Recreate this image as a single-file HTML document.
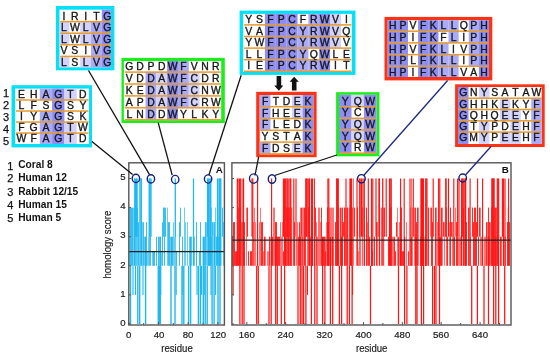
<!DOCTYPE html>
<html><head><meta charset="utf-8"><title>Homology</title>
<style>
html,body{margin:0;padding:0;background:#fff;width:550px;height:358px;overflow:hidden}
svg{display:block}
text{font-family:"Liberation Sans",Arial,sans-serif}
.seq text{font-size:10.4px;fill:#161616;stroke:#161616;stroke-width:0.35px;text-anchor:middle}
.tk{font-size:9.6px;fill:#1a1a1a;stroke:#1a1a1a;stroke-width:0.2px}
.ax{font-size:10px;fill:#1a1a1a;stroke:#1a1a1a;stroke-width:0.15px}
.pl{font-size:9.8px;font-weight:bold;fill:#111}
.lg{font-size:10.2px;font-weight:bold;fill:#111}
.ln{font-size:11px;fill:#111;stroke:#111;stroke-width:0.25px}
</style></head><body>
<svg width="550" height="358" viewBox="0 0 550 358">
<rect width="550" height="358" fill="#fff"/>
<g class="seq">
<rect x="56" y="6" width="58.40" height="64.30" fill="#06e0f6"/>
<rect x="59.5" y="9.7" width="51.30" height="57.60" fill="#fff"/>
<rect x="101.80" y="9.70" width="9.00" height="11.90" fill="#8e8ef2"/>
<rect x="59.50" y="21.60" width="9.92" height="11.60" fill="#d2d2fa"/>
<rect x="80.20" y="21.60" width="10.82" height="11.60" fill="#d2d2fa"/>
<rect x="91.00" y="21.60" width="10.82" height="11.60" fill="#aaaaf6"/>
<rect x="101.80" y="21.60" width="9.00" height="11.60" fill="#8e8ef2"/>
<rect x="59.50" y="33.20" width="9.92" height="11.60" fill="#d2d2fa"/>
<rect x="80.20" y="33.20" width="10.82" height="11.60" fill="#d2d2fa"/>
<rect x="91.00" y="33.20" width="10.82" height="11.60" fill="#aaaaf6"/>
<rect x="101.80" y="33.20" width="9.00" height="11.60" fill="#8e8ef2"/>
<rect x="91.00" y="44.80" width="10.82" height="11.60" fill="#aaaaf6"/>
<rect x="101.80" y="44.80" width="9.00" height="11.60" fill="#8e8ef2"/>
<rect x="59.50" y="56.40" width="9.92" height="10.90" fill="#d2d2fa"/>
<rect x="80.20" y="56.40" width="10.82" height="10.90" fill="#d2d2fa"/>
<rect x="91.00" y="56.40" width="10.82" height="10.90" fill="#aaaaf6"/>
<rect x="101.80" y="56.40" width="9.00" height="10.90" fill="#8e8ef2"/>
<rect x="60.30" y="20.85" width="50.10" height="1.5" fill="#e89a2c"/>
<rect x="60.30" y="32.45" width="50.10" height="1.5" fill="#e89a2c"/>
<rect x="60.30" y="44.05" width="50.10" height="1.5" fill="#e89a2c"/>
<rect x="60.30" y="55.65" width="50.10" height="1.5" fill="#e89a2c"/>
<text x="64.00" y="19.60">I</text>
<text x="74.80" y="19.60">R</text>
<text x="85.60" y="19.60">I</text>
<text x="96.40" y="19.60">T</text>
<text x="107.20" y="19.60">G</text>
<text x="64.00" y="31.20">L</text>
<text x="74.80" y="31.20">W</text>
<text x="85.60" y="31.20">L</text>
<text x="96.40" y="31.20">V</text>
<text x="107.20" y="31.20">G</text>
<text x="64.00" y="42.80">L</text>
<text x="74.80" y="42.80">W</text>
<text x="85.60" y="42.80">L</text>
<text x="96.40" y="42.80">V</text>
<text x="107.20" y="42.80">G</text>
<text x="64.00" y="54.40">V</text>
<text x="74.80" y="54.40">S</text>
<text x="85.60" y="54.40">I</text>
<text x="96.40" y="54.40">V</text>
<text x="107.20" y="54.40">G</text>
<text x="64.00" y="66.00">L</text>
<text x="74.80" y="66.00">S</text>
<text x="85.60" y="66.00">L</text>
<text x="96.40" y="66.00">V</text>
<text x="107.20" y="66.00">G</text>
<rect x="11.5" y="85.2" width="80.50" height="62.20" fill="#06e0f6"/>
<rect x="15.2" y="88.6" width="73.80" height="55.40" fill="#fff"/>
<rect x="39.80" y="88.60" width="12.32" height="11.40" fill="#aaaaf6"/>
<rect x="52.10" y="88.60" width="12.32" height="11.40" fill="#8e8ef2"/>
<rect x="64.40" y="88.60" width="12.32" height="11.40" fill="#d2d2fa"/>
<rect x="52.10" y="100.00" width="12.32" height="11.03" fill="#8e8ef2"/>
<rect x="39.80" y="111.03" width="12.32" height="11.03" fill="#aaaaf6"/>
<rect x="52.10" y="111.03" width="12.32" height="11.03" fill="#8e8ef2"/>
<rect x="39.80" y="122.06" width="12.32" height="11.03" fill="#aaaaf6"/>
<rect x="52.10" y="122.06" width="12.32" height="11.03" fill="#8e8ef2"/>
<rect x="64.40" y="122.06" width="12.32" height="11.03" fill="#d2d2fa"/>
<rect x="39.80" y="133.09" width="12.32" height="10.91" fill="#aaaaf6"/>
<rect x="52.10" y="133.09" width="12.32" height="10.91" fill="#8e8ef2"/>
<rect x="64.40" y="133.09" width="12.32" height="10.91" fill="#d2d2fa"/>
<rect x="16.00" y="99.25" width="72.60" height="1.5" fill="#e89a2c"/>
<rect x="16.00" y="110.28" width="72.60" height="1.5" fill="#e89a2c"/>
<rect x="16.00" y="121.31" width="72.60" height="1.5" fill="#e89a2c"/>
<rect x="16.00" y="132.34" width="72.60" height="1.5" fill="#e89a2c"/>
<text x="21.35" y="98.00">E</text>
<text x="33.65" y="98.00">H</text>
<text x="45.95" y="98.00">A</text>
<text x="58.25" y="98.00">G</text>
<text x="70.55" y="98.00">T</text>
<text x="82.85" y="98.00">D</text>
<text x="21.35" y="109.03">L</text>
<text x="33.65" y="109.03">F</text>
<text x="45.95" y="109.03">S</text>
<text x="58.25" y="109.03">G</text>
<text x="70.55" y="109.03">S</text>
<text x="82.85" y="109.03">Y</text>
<text x="21.35" y="120.06">I</text>
<text x="33.65" y="120.06">Y</text>
<text x="45.95" y="120.06">A</text>
<text x="58.25" y="120.06">G</text>
<text x="70.55" y="120.06">S</text>
<text x="82.85" y="120.06">K</text>
<text x="21.35" y="131.09">F</text>
<text x="33.65" y="131.09">G</text>
<text x="45.95" y="131.09">A</text>
<text x="58.25" y="131.09">G</text>
<text x="70.55" y="131.09">T</text>
<text x="82.85" y="131.09">W</text>
<text x="21.35" y="142.12">W</text>
<text x="33.65" y="142.12">F</text>
<text x="45.95" y="142.12">A</text>
<text x="58.25" y="142.12">G</text>
<text x="70.55" y="142.12">T</text>
<text x="82.85" y="142.12">D</text>
<rect x="121.5" y="57.9" width="103.30" height="65.10" fill="#18f018"/>
<rect x="123.9" y="61" width="97.30" height="59.20" fill="#fff"/>
<rect x="167.14" y="61.00" width="10.83" height="11.10" fill="#8e8ef2"/>
<rect x="177.96" y="61.00" width="10.83" height="11.10" fill="#aaaaf6"/>
<rect x="145.52" y="72.10" width="10.83" height="11.90" fill="#aaaaf6"/>
<rect x="156.33" y="72.10" width="10.83" height="11.90" fill="#d2d2fa"/>
<rect x="167.14" y="72.10" width="10.83" height="11.90" fill="#8e8ef2"/>
<rect x="177.96" y="72.10" width="10.83" height="11.90" fill="#aaaaf6"/>
<rect x="188.77" y="72.10" width="10.83" height="11.90" fill="#d2d2fa"/>
<rect x="145.52" y="84.00" width="10.83" height="11.90" fill="#aaaaf6"/>
<rect x="156.33" y="84.00" width="10.83" height="11.90" fill="#d2d2fa"/>
<rect x="167.14" y="84.00" width="10.83" height="11.90" fill="#8e8ef2"/>
<rect x="177.96" y="84.00" width="10.83" height="11.90" fill="#aaaaf6"/>
<rect x="188.77" y="84.00" width="10.83" height="11.90" fill="#d2d2fa"/>
<rect x="145.52" y="95.90" width="10.83" height="11.90" fill="#aaaaf6"/>
<rect x="156.33" y="95.90" width="10.83" height="11.90" fill="#d2d2fa"/>
<rect x="167.14" y="95.90" width="10.83" height="11.90" fill="#8e8ef2"/>
<rect x="177.96" y="95.90" width="10.83" height="11.90" fill="#aaaaf6"/>
<rect x="188.77" y="95.90" width="10.83" height="11.90" fill="#d2d2fa"/>
<rect x="145.52" y="107.80" width="10.83" height="12.40" fill="#aaaaf6"/>
<rect x="167.14" y="107.80" width="10.83" height="12.40" fill="#8e8ef2"/>
<rect x="124.70" y="71.35" width="96.10" height="1.5" fill="#e89a2c"/>
<rect x="124.70" y="83.25" width="96.10" height="1.5" fill="#e89a2c"/>
<rect x="124.70" y="95.15" width="96.10" height="1.5" fill="#e89a2c"/>
<rect x="124.70" y="107.05" width="96.10" height="1.5" fill="#e89a2c"/>
<rect x="124.70" y="118.95" width="96.10" height="1.5" fill="#e89a2c"/>
<text x="129.31" y="70.10">G</text>
<text x="140.12" y="70.10">D</text>
<text x="150.93" y="70.10">P</text>
<text x="161.74" y="70.10">D</text>
<text x="172.55" y="70.10">W</text>
<text x="183.36" y="70.10">F</text>
<text x="194.17" y="70.10">V</text>
<text x="204.98" y="70.10">N</text>
<text x="215.79" y="70.10">R</text>
<text x="129.31" y="82.00">V</text>
<text x="140.12" y="82.00">D</text>
<text x="150.93" y="82.00">D</text>
<text x="161.74" y="82.00">A</text>
<text x="172.55" y="82.00">W</text>
<text x="183.36" y="82.00">F</text>
<text x="194.17" y="82.00">C</text>
<text x="204.98" y="82.00">D</text>
<text x="215.79" y="82.00">R</text>
<text x="129.31" y="93.90">K</text>
<text x="140.12" y="93.90">E</text>
<text x="150.93" y="93.90">D</text>
<text x="161.74" y="93.90">A</text>
<text x="172.55" y="93.90">W</text>
<text x="183.36" y="93.90">F</text>
<text x="194.17" y="93.90">C</text>
<text x="204.98" y="93.90">N</text>
<text x="215.79" y="93.90">W</text>
<text x="129.31" y="105.80">A</text>
<text x="140.12" y="105.80">P</text>
<text x="150.93" y="105.80">D</text>
<text x="161.74" y="105.80">A</text>
<text x="172.55" y="105.80">W</text>
<text x="183.36" y="105.80">F</text>
<text x="194.17" y="105.80">C</text>
<text x="204.98" y="105.80">R</text>
<text x="215.79" y="105.80">W</text>
<text x="129.31" y="117.70">L</text>
<text x="140.12" y="117.70">N</text>
<text x="150.93" y="117.70">D</text>
<text x="161.74" y="117.70">D</text>
<text x="172.55" y="117.70">W</text>
<text x="183.36" y="117.70">Y</text>
<text x="194.17" y="117.70">L</text>
<text x="204.98" y="117.70">K</text>
<text x="215.79" y="117.70">Y</text>
<rect x="239.6" y="10.6" width="115.90" height="64.30" fill="#06e0f6"/>
<rect x="243.2" y="13.9" width="108.60" height="58.00" fill="#fff"/>
<rect x="264.92" y="13.90" width="10.88" height="11.00" fill="#8e8ef2"/>
<rect x="275.78" y="13.90" width="10.88" height="11.00" fill="#8e8ef2"/>
<rect x="286.64" y="13.90" width="10.88" height="11.00" fill="#8e8ef2"/>
<rect x="308.36" y="13.90" width="10.88" height="11.00" fill="#aaaaf6"/>
<rect x="319.22" y="13.90" width="10.88" height="11.00" fill="#8e8ef2"/>
<rect x="330.08" y="13.90" width="10.88" height="11.00" fill="#d2d2fa"/>
<rect x="264.92" y="24.90" width="10.88" height="11.60" fill="#8e8ef2"/>
<rect x="275.78" y="24.90" width="10.88" height="11.60" fill="#8e8ef2"/>
<rect x="286.64" y="24.90" width="10.88" height="11.60" fill="#8e8ef2"/>
<rect x="297.50" y="24.90" width="10.88" height="11.60" fill="#aaaaf6"/>
<rect x="308.36" y="24.90" width="10.88" height="11.60" fill="#aaaaf6"/>
<rect x="319.22" y="24.90" width="10.88" height="11.60" fill="#8e8ef2"/>
<rect x="330.08" y="24.90" width="10.88" height="11.60" fill="#d2d2fa"/>
<rect x="264.92" y="36.50" width="10.88" height="11.60" fill="#8e8ef2"/>
<rect x="275.78" y="36.50" width="10.88" height="11.60" fill="#8e8ef2"/>
<rect x="286.64" y="36.50" width="10.88" height="11.60" fill="#8e8ef2"/>
<rect x="297.50" y="36.50" width="10.88" height="11.60" fill="#aaaaf6"/>
<rect x="308.36" y="36.50" width="10.88" height="11.60" fill="#aaaaf6"/>
<rect x="319.22" y="36.50" width="10.88" height="11.60" fill="#8e8ef2"/>
<rect x="330.08" y="36.50" width="10.88" height="11.60" fill="#d2d2fa"/>
<rect x="264.92" y="48.10" width="10.88" height="11.60" fill="#8e8ef2"/>
<rect x="275.78" y="48.10" width="10.88" height="11.60" fill="#8e8ef2"/>
<rect x="286.64" y="48.10" width="10.88" height="11.60" fill="#8e8ef2"/>
<rect x="297.50" y="48.10" width="10.88" height="11.60" fill="#aaaaf6"/>
<rect x="319.22" y="48.10" width="10.88" height="11.60" fill="#8e8ef2"/>
<rect x="264.92" y="59.70" width="10.88" height="12.20" fill="#8e8ef2"/>
<rect x="275.78" y="59.70" width="10.88" height="12.20" fill="#8e8ef2"/>
<rect x="286.64" y="59.70" width="10.88" height="12.20" fill="#8e8ef2"/>
<rect x="297.50" y="59.70" width="10.88" height="12.20" fill="#aaaaf6"/>
<rect x="308.36" y="59.70" width="10.88" height="12.20" fill="#aaaaf6"/>
<rect x="319.22" y="59.70" width="10.88" height="12.20" fill="#8e8ef2"/>
<rect x="244.00" y="24.15" width="107.40" height="1.5" fill="#e89a2c"/>
<rect x="244.00" y="35.75" width="107.40" height="1.5" fill="#e89a2c"/>
<rect x="244.00" y="47.35" width="107.40" height="1.5" fill="#e89a2c"/>
<rect x="244.00" y="58.95" width="107.40" height="1.5" fill="#e89a2c"/>
<rect x="244.00" y="70.55" width="107.40" height="1.5" fill="#e89a2c"/>
<text x="248.63" y="22.90">Y</text>
<text x="259.49" y="22.90">S</text>
<text x="270.35" y="22.90">F</text>
<text x="281.21" y="22.90">P</text>
<text x="292.07" y="22.90">C</text>
<text x="302.93" y="22.90">F</text>
<text x="313.79" y="22.90">R</text>
<text x="324.65" y="22.90">W</text>
<text x="335.51" y="22.90">V</text>
<text x="346.37" y="22.90">I</text>
<text x="248.63" y="34.50">V</text>
<text x="259.49" y="34.50">A</text>
<text x="270.35" y="34.50">F</text>
<text x="281.21" y="34.50">P</text>
<text x="292.07" y="34.50">C</text>
<text x="302.93" y="34.50">Y</text>
<text x="313.79" y="34.50">R</text>
<text x="324.65" y="34.50">W</text>
<text x="335.51" y="34.50">V</text>
<text x="346.37" y="34.50">Q</text>
<text x="248.63" y="46.10">Y</text>
<text x="259.49" y="46.10">W</text>
<text x="270.35" y="46.10">F</text>
<text x="281.21" y="46.10">P</text>
<text x="292.07" y="46.10">C</text>
<text x="302.93" y="46.10">Y</text>
<text x="313.79" y="46.10">R</text>
<text x="324.65" y="46.10">W</text>
<text x="335.51" y="46.10">V</text>
<text x="346.37" y="46.10">V</text>
<text x="248.63" y="57.70">L</text>
<text x="259.49" y="57.70">L</text>
<text x="270.35" y="57.70">F</text>
<text x="281.21" y="57.70">P</text>
<text x="292.07" y="57.70">C</text>
<text x="302.93" y="57.70">Y</text>
<text x="313.79" y="57.70">Q</text>
<text x="324.65" y="57.70">W</text>
<text x="335.51" y="57.70">L</text>
<text x="346.37" y="57.70">E</text>
<text x="248.63" y="69.30">I</text>
<text x="259.49" y="69.30">E</text>
<text x="270.35" y="69.30">F</text>
<text x="281.21" y="69.30">P</text>
<text x="292.07" y="69.30">C</text>
<text x="302.93" y="69.30">Y</text>
<text x="313.79" y="69.30">R</text>
<text x="324.65" y="69.30">W</text>
<text x="335.51" y="69.30">I</text>
<text x="346.37" y="69.30">T</text>
<rect x="256.2" y="91.8" width="60.40" height="65.40" fill="#ff3214"/>
<rect x="259.7" y="95" width="53.70" height="59.20" fill="#fff"/>
<rect x="259.70" y="95.00" width="10.76" height="11.70" fill="#aaaaf6"/>
<rect x="291.92" y="95.00" width="10.76" height="11.70" fill="#d2d2fa"/>
<rect x="302.66" y="95.00" width="10.74" height="11.70" fill="#8e8ef2"/>
<rect x="259.70" y="106.70" width="10.76" height="11.80" fill="#aaaaf6"/>
<rect x="291.92" y="106.70" width="10.76" height="11.80" fill="#d2d2fa"/>
<rect x="302.66" y="106.70" width="10.74" height="11.80" fill="#8e8ef2"/>
<rect x="259.70" y="118.50" width="10.76" height="11.80" fill="#aaaaf6"/>
<rect x="302.66" y="118.50" width="10.74" height="11.80" fill="#8e8ef2"/>
<rect x="302.66" y="130.30" width="10.74" height="11.80" fill="#8e8ef2"/>
<rect x="259.70" y="142.10" width="10.76" height="12.10" fill="#aaaaf6"/>
<rect x="291.92" y="142.10" width="10.76" height="12.10" fill="#d2d2fa"/>
<rect x="302.66" y="142.10" width="10.74" height="12.10" fill="#8e8ef2"/>
<rect x="260.50" y="105.95" width="52.50" height="1.5" fill="#e89a2c"/>
<rect x="260.50" y="117.75" width="52.50" height="1.5" fill="#e89a2c"/>
<rect x="260.50" y="129.55" width="52.50" height="1.5" fill="#e89a2c"/>
<rect x="260.50" y="141.35" width="52.50" height="1.5" fill="#e89a2c"/>
<rect x="260.50" y="153.15" width="52.50" height="1.5" fill="#e89a2c"/>
<text x="265.07" y="104.70">F</text>
<text x="275.81" y="104.70">T</text>
<text x="286.55" y="104.70">D</text>
<text x="297.29" y="104.70">E</text>
<text x="308.03" y="104.70">K</text>
<text x="265.07" y="116.50">F</text>
<text x="275.81" y="116.50">H</text>
<text x="286.55" y="116.50">E</text>
<text x="297.29" y="116.50">E</text>
<text x="308.03" y="116.50">K</text>
<text x="265.07" y="128.30">F</text>
<text x="275.81" y="128.30">L</text>
<text x="286.55" y="128.30">E</text>
<text x="297.29" y="128.30">D</text>
<text x="308.03" y="128.30">K</text>
<text x="265.07" y="140.10">Y</text>
<text x="275.81" y="140.10">S</text>
<text x="286.55" y="140.10">T</text>
<text x="297.29" y="140.10">A</text>
<text x="308.03" y="140.10">K</text>
<text x="265.07" y="151.90">F</text>
<text x="275.81" y="151.90">D</text>
<text x="286.55" y="151.90">S</text>
<text x="297.29" y="151.90">E</text>
<text x="308.03" y="151.90">K</text>
<rect x="336.1" y="92.2" width="43.30" height="64.10" fill="#18f018"/>
<rect x="339" y="94.8" width="37.40" height="58.60" fill="#fff"/>
<rect x="339.00" y="94.80" width="12.49" height="11.90" fill="#8e8ef2"/>
<rect x="351.47" y="94.80" width="12.49" height="11.90" fill="#d2d2fa"/>
<rect x="363.93" y="94.80" width="12.47" height="11.90" fill="#8e8ef2"/>
<rect x="339.00" y="106.70" width="12.49" height="11.60" fill="#8e8ef2"/>
<rect x="363.93" y="106.70" width="12.47" height="11.60" fill="#8e8ef2"/>
<rect x="339.00" y="118.30" width="12.49" height="11.60" fill="#8e8ef2"/>
<rect x="351.47" y="118.30" width="12.49" height="11.60" fill="#d2d2fa"/>
<rect x="363.93" y="118.30" width="12.47" height="11.60" fill="#8e8ef2"/>
<rect x="339.00" y="129.90" width="12.49" height="11.60" fill="#8e8ef2"/>
<rect x="351.47" y="129.90" width="12.49" height="11.60" fill="#d2d2fa"/>
<rect x="363.93" y="129.90" width="12.47" height="11.60" fill="#8e8ef2"/>
<rect x="339.00" y="141.50" width="12.49" height="11.90" fill="#8e8ef2"/>
<rect x="363.93" y="141.50" width="12.47" height="11.90" fill="#8e8ef2"/>
<rect x="339.80" y="105.95" width="36.20" height="1.5" fill="#e89a2c"/>
<rect x="339.80" y="117.55" width="36.20" height="1.5" fill="#e89a2c"/>
<rect x="339.80" y="129.15" width="36.20" height="1.5" fill="#e89a2c"/>
<rect x="339.80" y="140.75" width="36.20" height="1.5" fill="#e89a2c"/>
<rect x="339.80" y="152.35" width="36.20" height="1.5" fill="#e89a2c"/>
<text x="345.23" y="104.70">Y</text>
<text x="357.70" y="104.70">Q</text>
<text x="370.17" y="104.70">W</text>
<text x="345.23" y="116.30">Y</text>
<text x="357.70" y="116.30">C</text>
<text x="370.17" y="116.30">W</text>
<text x="345.23" y="127.90">Y</text>
<text x="357.70" y="127.90">Q</text>
<text x="370.17" y="127.90">W</text>
<text x="345.23" y="139.50">Y</text>
<text x="357.70" y="139.50">Q</text>
<text x="370.17" y="139.50">W</text>
<text x="345.23" y="151.10">Y</text>
<text x="357.70" y="151.10">R</text>
<text x="370.17" y="151.10">W</text>
<rect x="384.5" y="16.9" width="107.80" height="63.50" fill="#ff3214"/>
<rect x="387.7" y="20.2" width="101.30" height="56.80" fill="#fff"/>
<rect x="387.70" y="20.20" width="10.15" height="11.00" fill="#8e8ef2"/>
<rect x="397.83" y="20.20" width="10.15" height="11.00" fill="#8e8ef2"/>
<rect x="418.09" y="20.20" width="10.15" height="11.00" fill="#8e8ef2"/>
<rect x="428.22" y="20.20" width="10.15" height="11.00" fill="#8e8ef2"/>
<rect x="438.35" y="20.20" width="10.15" height="11.00" fill="#aaaaf6"/>
<rect x="448.48" y="20.20" width="10.15" height="11.00" fill="#aaaaf6"/>
<rect x="468.74" y="20.20" width="10.15" height="11.00" fill="#aaaaf6"/>
<rect x="478.87" y="20.20" width="10.13" height="11.00" fill="#8e8ef2"/>
<rect x="387.70" y="31.20" width="10.15" height="11.70" fill="#8e8ef2"/>
<rect x="397.83" y="31.20" width="10.15" height="11.70" fill="#8e8ef2"/>
<rect x="418.09" y="31.20" width="10.15" height="11.70" fill="#8e8ef2"/>
<rect x="428.22" y="31.20" width="10.15" height="11.70" fill="#8e8ef2"/>
<rect x="448.48" y="31.20" width="10.15" height="11.70" fill="#aaaaf6"/>
<rect x="468.74" y="31.20" width="10.15" height="11.70" fill="#aaaaf6"/>
<rect x="478.87" y="31.20" width="10.13" height="11.70" fill="#8e8ef2"/>
<rect x="387.70" y="42.90" width="10.15" height="11.70" fill="#8e8ef2"/>
<rect x="397.83" y="42.90" width="10.15" height="11.70" fill="#8e8ef2"/>
<rect x="418.09" y="42.90" width="10.15" height="11.70" fill="#8e8ef2"/>
<rect x="428.22" y="42.90" width="10.15" height="11.70" fill="#8e8ef2"/>
<rect x="438.35" y="42.90" width="10.15" height="11.70" fill="#aaaaf6"/>
<rect x="468.74" y="42.90" width="10.15" height="11.70" fill="#aaaaf6"/>
<rect x="478.87" y="42.90" width="10.13" height="11.70" fill="#8e8ef2"/>
<rect x="387.70" y="54.60" width="10.15" height="11.70" fill="#8e8ef2"/>
<rect x="397.83" y="54.60" width="10.15" height="11.70" fill="#8e8ef2"/>
<rect x="418.09" y="54.60" width="10.15" height="11.70" fill="#8e8ef2"/>
<rect x="428.22" y="54.60" width="10.15" height="11.70" fill="#8e8ef2"/>
<rect x="438.35" y="54.60" width="10.15" height="11.70" fill="#aaaaf6"/>
<rect x="448.48" y="54.60" width="10.15" height="11.70" fill="#aaaaf6"/>
<rect x="468.74" y="54.60" width="10.15" height="11.70" fill="#aaaaf6"/>
<rect x="478.87" y="54.60" width="10.13" height="11.70" fill="#8e8ef2"/>
<rect x="387.70" y="66.30" width="10.15" height="10.70" fill="#8e8ef2"/>
<rect x="397.83" y="66.30" width="10.15" height="10.70" fill="#8e8ef2"/>
<rect x="418.09" y="66.30" width="10.15" height="10.70" fill="#8e8ef2"/>
<rect x="428.22" y="66.30" width="10.15" height="10.70" fill="#8e8ef2"/>
<rect x="438.35" y="66.30" width="10.15" height="10.70" fill="#aaaaf6"/>
<rect x="448.48" y="66.30" width="10.15" height="10.70" fill="#aaaaf6"/>
<rect x="478.87" y="66.30" width="10.13" height="10.70" fill="#8e8ef2"/>
<rect x="388.50" y="30.45" width="100.10" height="1.5" fill="#e89a2c"/>
<rect x="388.50" y="42.15" width="100.10" height="1.5" fill="#e89a2c"/>
<rect x="388.50" y="53.85" width="100.10" height="1.5" fill="#e89a2c"/>
<rect x="388.50" y="65.55" width="100.10" height="1.5" fill="#e89a2c"/>
<text x="392.76" y="29.20">H</text>
<text x="402.89" y="29.20">P</text>
<text x="413.02" y="29.20">V</text>
<text x="423.15" y="29.20">F</text>
<text x="433.28" y="29.20">K</text>
<text x="443.42" y="29.20">L</text>
<text x="453.55" y="29.20">L</text>
<text x="463.68" y="29.20">Q</text>
<text x="473.81" y="29.20">P</text>
<text x="483.94" y="29.20">H</text>
<text x="392.76" y="40.90">H</text>
<text x="402.89" y="40.90">P</text>
<text x="413.02" y="40.90">I</text>
<text x="423.15" y="40.90">F</text>
<text x="433.28" y="40.90">K</text>
<text x="443.42" y="40.90">F</text>
<text x="453.55" y="40.90">L</text>
<text x="463.68" y="40.90">I</text>
<text x="473.81" y="40.90">P</text>
<text x="483.94" y="40.90">H</text>
<text x="392.76" y="52.60">H</text>
<text x="402.89" y="52.60">P</text>
<text x="413.02" y="52.60">V</text>
<text x="423.15" y="52.60">F</text>
<text x="433.28" y="52.60">K</text>
<text x="443.42" y="52.60">L</text>
<text x="453.55" y="52.60">I</text>
<text x="463.68" y="52.60">V</text>
<text x="473.81" y="52.60">P</text>
<text x="483.94" y="52.60">H</text>
<text x="392.76" y="64.30">H</text>
<text x="402.89" y="64.30">P</text>
<text x="413.02" y="64.30">L</text>
<text x="423.15" y="64.30">F</text>
<text x="433.28" y="64.30">K</text>
<text x="443.42" y="64.30">L</text>
<text x="453.55" y="64.30">L</text>
<text x="463.68" y="64.30">I</text>
<text x="473.81" y="64.30">P</text>
<text x="483.94" y="64.30">H</text>
<text x="392.76" y="76.00">H</text>
<text x="402.89" y="76.00">P</text>
<text x="413.02" y="76.00">I</text>
<text x="423.15" y="76.00">F</text>
<text x="433.28" y="76.00">K</text>
<text x="443.42" y="76.00">L</text>
<text x="453.55" y="76.00">L</text>
<text x="463.68" y="76.00">V</text>
<text x="473.81" y="76.00">A</text>
<text x="483.94" y="76.00">H</text>
<rect x="455.1" y="84.3" width="89.60" height="62.70" fill="#ff3214"/>
<rect x="458" y="87" width="83.70" height="57.00" fill="#fff"/>
<rect x="458.00" y="87.00" width="10.48" height="11.20" fill="#8e8ef2"/>
<rect x="478.93" y="87.00" width="10.48" height="11.20" fill="#d2d2fa"/>
<rect x="458.00" y="98.20" width="10.48" height="11.30" fill="#8e8ef2"/>
<rect x="499.85" y="98.20" width="10.48" height="11.30" fill="#d2d2fa"/>
<rect x="531.24" y="98.20" width="10.46" height="11.30" fill="#aaaaf6"/>
<rect x="458.00" y="109.50" width="10.48" height="11.30" fill="#8e8ef2"/>
<rect x="499.85" y="109.50" width="10.48" height="11.30" fill="#d2d2fa"/>
<rect x="510.31" y="109.50" width="10.48" height="11.30" fill="#d2d2fa"/>
<rect x="531.24" y="109.50" width="10.46" height="11.30" fill="#aaaaf6"/>
<rect x="458.00" y="120.80" width="10.48" height="11.30" fill="#8e8ef2"/>
<rect x="478.93" y="120.80" width="10.48" height="11.30" fill="#d2d2fa"/>
<rect x="510.31" y="120.80" width="10.48" height="11.30" fill="#d2d2fa"/>
<rect x="531.24" y="120.80" width="10.46" height="11.30" fill="#aaaaf6"/>
<rect x="458.00" y="132.10" width="10.48" height="11.90" fill="#8e8ef2"/>
<rect x="478.93" y="132.10" width="10.48" height="11.90" fill="#d2d2fa"/>
<rect x="499.85" y="132.10" width="10.48" height="11.90" fill="#d2d2fa"/>
<rect x="510.31" y="132.10" width="10.48" height="11.90" fill="#d2d2fa"/>
<rect x="531.24" y="132.10" width="10.46" height="11.90" fill="#aaaaf6"/>
<rect x="458.80" y="97.45" width="82.50" height="1.5" fill="#e89a2c"/>
<rect x="458.80" y="108.75" width="82.50" height="1.5" fill="#e89a2c"/>
<rect x="458.80" y="120.05" width="82.50" height="1.5" fill="#e89a2c"/>
<rect x="458.80" y="131.35" width="82.50" height="1.5" fill="#e89a2c"/>
<text x="463.23" y="96.20">G</text>
<text x="473.69" y="96.20">N</text>
<text x="484.16" y="96.20">Y</text>
<text x="494.62" y="96.20">S</text>
<text x="505.08" y="96.20">A</text>
<text x="515.54" y="96.20">T</text>
<text x="526.01" y="96.20">A</text>
<text x="536.47" y="96.20">W</text>
<text x="463.23" y="107.50">G</text>
<text x="473.69" y="107.50">H</text>
<text x="484.16" y="107.50">H</text>
<text x="494.62" y="107.50">K</text>
<text x="505.08" y="107.50">E</text>
<text x="515.54" y="107.50">K</text>
<text x="526.01" y="107.50">Y</text>
<text x="536.47" y="107.50">F</text>
<text x="463.23" y="118.80">G</text>
<text x="473.69" y="118.80">Q</text>
<text x="484.16" y="118.80">H</text>
<text x="494.62" y="118.80">Q</text>
<text x="505.08" y="118.80">E</text>
<text x="515.54" y="118.80">E</text>
<text x="526.01" y="118.80">Y</text>
<text x="536.47" y="118.80">F</text>
<text x="463.23" y="130.10">G</text>
<text x="473.69" y="130.10">T</text>
<text x="484.16" y="130.10">Y</text>
<text x="494.62" y="130.10">P</text>
<text x="505.08" y="130.10">D</text>
<text x="515.54" y="130.10">E</text>
<text x="526.01" y="130.10">H</text>
<text x="536.47" y="130.10">F</text>
<text x="463.23" y="141.40">G</text>
<text x="473.69" y="141.40">M</text>
<text x="484.16" y="141.40">Y</text>
<text x="494.62" y="141.40">P</text>
<text x="505.08" y="141.40">E</text>
<text x="515.54" y="141.40">E</text>
<text x="526.01" y="141.40">H</text>
<text x="536.47" y="141.40">F</text>
</g>
<rect x="128.8" y="162.8" width="95.6" height="162.2" fill="#fff"/>
<rect x="231.9" y="162.8" width="279.1" height="162.2" fill="#fff"/>
<line x1="129.50" y1="207.60" x2="129.50" y2="265.80" stroke="#5cc8f2" stroke-width="0.9"/>
<line x1="130.50" y1="207.60" x2="130.50" y2="265.80" stroke="#20b8f0" stroke-width="0.9"/>
<line x1="131.50" y1="207.60" x2="131.50" y2="265.80" stroke="#20b8f0" stroke-width="0.9"/>
<line x1="132.50" y1="207.60" x2="132.50" y2="265.80" stroke="#20b8f0" stroke-width="0.9"/>
<line x1="133.50" y1="207.60" x2="133.50" y2="265.80" stroke="#5cc8f2" stroke-width="0.9"/>
<line x1="134.55" y1="207.60" x2="134.55" y2="265.80" stroke="#20b8f0" stroke-width="0.8"/>
<line x1="135.72" y1="236.70" x2="135.72" y2="265.80" stroke="#20b8f0" stroke-width="0.8"/>
<line x1="136.50" y1="178.50" x2="136.50" y2="236.70" stroke="#5cc8f2" stroke-width="0.9"/>
<line x1="136.39" y1="207.60" x2="136.39" y2="265.80" stroke="#20b8f0" stroke-width="0.8"/>
<line x1="137.50" y1="178.50" x2="137.50" y2="236.70" stroke="#5cc8f2" stroke-width="0.9"/>
<line x1="137.42" y1="207.60" x2="137.42" y2="265.80" stroke="#20b8f0" stroke-width="0.8"/>
<line x1="138.50" y1="222.15" x2="138.50" y2="265.80" stroke="#20b8f0" stroke-width="0.9"/>
<line x1="139.39" y1="178.50" x2="139.39" y2="265.80" stroke="#20b8f0" stroke-width="0.8"/>
<line x1="140.50" y1="178.50" x2="140.50" y2="265.80" stroke="#5cc8f2" stroke-width="0.9"/>
<line x1="141.54" y1="178.50" x2="141.54" y2="265.80" stroke="#20b8f0" stroke-width="0.8"/>
<line x1="142.50" y1="222.15" x2="142.50" y2="265.80" stroke="#5cc8f2" stroke-width="0.9"/>
<line x1="143.50" y1="222.15" x2="143.50" y2="265.80" stroke="#20b8f0" stroke-width="0.9"/>
<line x1="144.50" y1="236.70" x2="144.50" y2="265.80" stroke="#5cc8f2" stroke-width="0.9"/>
<line x1="145.50" y1="236.70" x2="145.50" y2="265.80" stroke="#5cc8f2" stroke-width="0.9"/>
<line x1="146.50" y1="222.15" x2="146.50" y2="265.80" stroke="#20b8f0" stroke-width="0.9"/>
<line x1="147.50" y1="251.25" x2="147.50" y2="265.80" stroke="#5cc8f2" stroke-width="0.9"/>
<line x1="148.50" y1="236.70" x2="148.50" y2="265.80" stroke="#5cc8f2" stroke-width="0.9"/>
<line x1="149.50" y1="178.50" x2="149.50" y2="236.70" stroke="#5cc8f2" stroke-width="0.9"/>
<line x1="149.64" y1="236.70" x2="149.64" y2="265.80" stroke="#20b8f0" stroke-width="0.8"/>
<line x1="152.50" y1="251.25" x2="152.50" y2="265.80" stroke="#5cc8f2" stroke-width="0.9"/>
<line x1="153.50" y1="251.25" x2="153.50" y2="265.80" stroke="#20b8f0" stroke-width="0.9"/>
<line x1="154.50" y1="251.25" x2="154.50" y2="265.80" stroke="#20b8f0" stroke-width="0.9"/>
<line x1="156.50" y1="236.70" x2="156.50" y2="265.80" stroke="#20b8f0" stroke-width="0.9"/>
<line x1="158.50" y1="236.70" x2="158.50" y2="265.80" stroke="#20b8f0" stroke-width="0.9"/>
<line x1="159.50" y1="236.70" x2="159.50" y2="265.80" stroke="#5cc8f2" stroke-width="0.9"/>
<line x1="161.50" y1="251.25" x2="161.50" y2="265.80" stroke="#5cc8f2" stroke-width="0.9"/>
<line x1="162.50" y1="222.15" x2="162.50" y2="265.80" stroke="#20b8f0" stroke-width="0.9"/>
<line x1="163.50" y1="207.60" x2="163.50" y2="236.70" stroke="#20b8f0" stroke-width="0.9"/>
<line x1="164.50" y1="207.60" x2="164.50" y2="265.80" stroke="#20b8f0" stroke-width="0.9"/>
<line x1="165.50" y1="207.60" x2="165.50" y2="236.70" stroke="#20b8f0" stroke-width="0.9"/>
<line x1="167.50" y1="207.60" x2="167.50" y2="265.80" stroke="#5cc8f2" stroke-width="0.9"/>
<line x1="168.50" y1="222.15" x2="168.50" y2="265.80" stroke="#20b8f0" stroke-width="0.9"/>
<line x1="169.50" y1="222.15" x2="169.50" y2="265.80" stroke="#20b8f0" stroke-width="0.9"/>
<line x1="171.50" y1="236.70" x2="171.50" y2="265.80" stroke="#20b8f0" stroke-width="0.9"/>
<line x1="172.50" y1="236.70" x2="172.50" y2="265.80" stroke="#20b8f0" stroke-width="0.9"/>
<line x1="173.50" y1="222.15" x2="173.50" y2="265.80" stroke="#5cc8f2" stroke-width="0.9"/>
<line x1="174.50" y1="236.70" x2="174.50" y2="265.80" stroke="#5cc8f2" stroke-width="0.9"/>
<line x1="175.50" y1="222.15" x2="175.50" y2="265.80" stroke="#5cc8f2" stroke-width="0.9"/>
<line x1="176.50" y1="251.25" x2="176.50" y2="265.80" stroke="#20b8f0" stroke-width="0.9"/>
<line x1="179.50" y1="222.15" x2="179.50" y2="265.80" stroke="#20b8f0" stroke-width="0.9"/>
<line x1="180.50" y1="207.60" x2="180.50" y2="236.70" stroke="#20b8f0" stroke-width="0.9"/>
<line x1="182.50" y1="236.70" x2="182.50" y2="265.80" stroke="#20b8f0" stroke-width="0.9"/>
<line x1="184.50" y1="207.60" x2="184.50" y2="265.80" stroke="#5cc8f2" stroke-width="0.9"/>
<line x1="185.50" y1="222.15" x2="185.50" y2="265.80" stroke="#5cc8f2" stroke-width="0.9"/>
<line x1="187.50" y1="222.15" x2="187.50" y2="265.80" stroke="#5cc8f2" stroke-width="0.9"/>
<line x1="189.50" y1="236.70" x2="189.50" y2="265.80" stroke="#5cc8f2" stroke-width="0.9"/>
<line x1="191.50" y1="236.70" x2="191.50" y2="265.80" stroke="#5cc8f2" stroke-width="0.9"/>
<line x1="194.50" y1="236.70" x2="194.50" y2="265.80" stroke="#5cc8f2" stroke-width="0.9"/>
<line x1="196.50" y1="222.15" x2="196.50" y2="265.80" stroke="#20b8f0" stroke-width="0.9"/>
<line x1="199.50" y1="251.25" x2="199.50" y2="265.80" stroke="#20b8f0" stroke-width="0.9"/>
<line x1="200.50" y1="222.15" x2="200.50" y2="265.80" stroke="#20b8f0" stroke-width="0.9"/>
<line x1="204.50" y1="236.70" x2="204.50" y2="265.80" stroke="#20b8f0" stroke-width="0.9"/>
<line x1="205.50" y1="222.15" x2="205.50" y2="265.80" stroke="#20b8f0" stroke-width="0.9"/>
<line x1="206.50" y1="222.15" x2="206.50" y2="265.80" stroke="#5cc8f2" stroke-width="0.9"/>
<line x1="207.50" y1="178.50" x2="207.50" y2="236.70" stroke="#5cc8f2" stroke-width="0.9"/>
<line x1="207.59" y1="207.60" x2="207.59" y2="265.80" stroke="#20b8f0" stroke-width="0.8"/>
<line x1="209.31" y1="236.70" x2="209.31" y2="265.80" stroke="#20b8f0" stroke-width="0.8"/>
<line x1="210.50" y1="178.50" x2="210.50" y2="236.70" stroke="#5cc8f2" stroke-width="0.9"/>
<line x1="210.44" y1="207.60" x2="210.44" y2="265.80" stroke="#20b8f0" stroke-width="0.8"/>
<line x1="211.28" y1="207.60" x2="211.28" y2="265.80" stroke="#20b8f0" stroke-width="0.8"/>
<line x1="212.50" y1="222.15" x2="212.50" y2="236.70" stroke="#20b8f0" stroke-width="0.9"/>
<line x1="213.50" y1="222.15" x2="213.50" y2="236.70" stroke="#5cc8f2" stroke-width="0.9"/>
<line x1="214.50" y1="222.15" x2="214.50" y2="265.80" stroke="#20b8f0" stroke-width="0.9"/>
<line x1="215.50" y1="207.60" x2="215.50" y2="265.80" stroke="#5cc8f2" stroke-width="0.9"/>
<line x1="216.50" y1="236.70" x2="216.50" y2="265.80" stroke="#20b8f0" stroke-width="0.9"/>
<line x1="218.50" y1="178.50" x2="218.50" y2="265.80" stroke="#5cc8f2" stroke-width="0.9"/>
<line x1="218.50" y1="236.70" x2="218.50" y2="265.80" stroke="#20b8f0" stroke-width="0.8"/>
<line x1="219.50" y1="178.50" x2="219.50" y2="265.80" stroke="#5cc8f2" stroke-width="0.9"/>
<line x1="220.50" y1="178.50" x2="220.50" y2="236.70" stroke="#5cc8f2" stroke-width="0.9"/>
<line x1="220.47" y1="178.50" x2="220.47" y2="265.80" stroke="#20b8f0" stroke-width="0.8"/>
<line x1="222.50" y1="207.60" x2="222.50" y2="236.70" stroke="#20b8f0" stroke-width="0.9"/>
<line x1="223.50" y1="222.15" x2="223.50" y2="265.80" stroke="#5cc8f2" stroke-width="0.9"/>
<line x1="133.00" y1="265.80" x2="133.00" y2="294.90" stroke="#20b8f0" stroke-width="1.1"/>
<line x1="135.50" y1="265.80" x2="135.50" y2="294.90" stroke="#20b8f0" stroke-width="1.1"/>
<line x1="143.00" y1="265.80" x2="143.00" y2="294.90" stroke="#20b8f0" stroke-width="1.1"/>
<line x1="160.80" y1="265.80" x2="160.80" y2="294.90" stroke="#20b8f0" stroke-width="1.1"/>
<line x1="176.20" y1="265.80" x2="176.20" y2="294.90" stroke="#20b8f0" stroke-width="1.1"/>
<line x1="182.80" y1="265.80" x2="182.80" y2="294.90" stroke="#20b8f0" stroke-width="1.1"/>
<line x1="197.00" y1="265.80" x2="197.00" y2="294.90" stroke="#20b8f0" stroke-width="1.1"/>
<line x1="201.50" y1="265.80" x2="201.50" y2="294.90" stroke="#20b8f0" stroke-width="1.1"/>
<line x1="204.20" y1="265.80" x2="204.20" y2="294.90" stroke="#20b8f0" stroke-width="1.1"/>
<line x1="211.00" y1="265.80" x2="211.00" y2="294.90" stroke="#20b8f0" stroke-width="1.1"/>
<line x1="215.60" y1="265.80" x2="215.60" y2="294.90" stroke="#20b8f0" stroke-width="1.1"/>
<line x1="130.50" y1="265.80" x2="130.50" y2="324.00" stroke="#20b8f0" stroke-width="1.4"/>
<line x1="137.80" y1="265.80" x2="137.80" y2="324.00" stroke="#20b8f0" stroke-width="1.4"/>
<line x1="139.70" y1="265.80" x2="139.70" y2="324.00" stroke="#20b8f0" stroke-width="1.4"/>
<line x1="145.60" y1="236.70" x2="145.60" y2="324.00" stroke="#20b8f0" stroke-width="1.4"/>
<line x1="158.30" y1="265.80" x2="158.30" y2="324.00" stroke="#20b8f0" stroke-width="1.4"/>
<line x1="159.50" y1="265.80" x2="159.50" y2="324.00" stroke="#20b8f0" stroke-width="1.4"/>
<line x1="160.30" y1="236.70" x2="160.30" y2="324.00" stroke="#20b8f0" stroke-width="1.4"/>
<line x1="171.00" y1="236.70" x2="171.00" y2="324.00" stroke="#20b8f0" stroke-width="1.4"/>
<line x1="175.00" y1="265.80" x2="175.00" y2="324.00" stroke="#20b8f0" stroke-width="1.4"/>
<line x1="182.00" y1="265.80" x2="182.00" y2="324.00" stroke="#20b8f0" stroke-width="1.4"/>
<line x1="183.80" y1="265.80" x2="183.80" y2="324.00" stroke="#20b8f0" stroke-width="1.4"/>
<line x1="188.60" y1="265.80" x2="188.60" y2="324.00" stroke="#20b8f0" stroke-width="1.4"/>
<line x1="190.60" y1="236.70" x2="190.60" y2="324.00" stroke="#20b8f0" stroke-width="1.4"/>
<line x1="198.40" y1="265.80" x2="198.40" y2="324.00" stroke="#20b8f0" stroke-width="1.4"/>
<line x1="200.40" y1="265.80" x2="200.40" y2="324.00" stroke="#20b8f0" stroke-width="1.4"/>
<line x1="203.30" y1="236.70" x2="203.30" y2="324.00" stroke="#20b8f0" stroke-width="1.4"/>
<line x1="205.20" y1="265.80" x2="205.20" y2="324.00" stroke="#20b8f0" stroke-width="1.4"/>
<line x1="207.20" y1="265.80" x2="207.20" y2="324.00" stroke="#20b8f0" stroke-width="1.4"/>
<line x1="212.10" y1="236.70" x2="212.10" y2="324.00" stroke="#20b8f0" stroke-width="1.4"/>
<line x1="214.10" y1="236.70" x2="214.10" y2="324.00" stroke="#20b8f0" stroke-width="1.4"/>
<line x1="218.00" y1="265.80" x2="218.00" y2="324.00" stroke="#20b8f0" stroke-width="1.4"/>
<line x1="220.00" y1="236.70" x2="220.00" y2="324.00" stroke="#20b8f0" stroke-width="1.4"/>
<line x1="134.80" y1="178.50" x2="134.80" y2="265.80" stroke="#20b8f0" stroke-width="1.3"/>
<line x1="135.60" y1="178.50" x2="135.60" y2="236.70" stroke="#20b8f0" stroke-width="1.3"/>
<line x1="136.50" y1="178.50" x2="136.50" y2="236.70" stroke="#20b8f0" stroke-width="1.3"/>
<line x1="141.20" y1="178.50" x2="141.20" y2="265.80" stroke="#20b8f0" stroke-width="1.3"/>
<line x1="149.20" y1="178.50" x2="149.20" y2="236.70" stroke="#20b8f0" stroke-width="1.3"/>
<line x1="150.20" y1="178.50" x2="150.20" y2="265.80" stroke="#20b8f0" stroke-width="1.3"/>
<line x1="151.00" y1="178.50" x2="151.00" y2="236.70" stroke="#20b8f0" stroke-width="1.3"/>
<line x1="175.30" y1="178.50" x2="175.30" y2="236.70" stroke="#20b8f0" stroke-width="1.3"/>
<line x1="193.50" y1="178.50" x2="193.50" y2="265.80" stroke="#20b8f0" stroke-width="1.3"/>
<line x1="207.60" y1="178.50" x2="207.60" y2="236.70" stroke="#20b8f0" stroke-width="1.3"/>
<line x1="208.60" y1="178.50" x2="208.60" y2="265.80" stroke="#20b8f0" stroke-width="1.3"/>
<line x1="209.80" y1="178.50" x2="209.80" y2="265.80" stroke="#20b8f0" stroke-width="1.3"/>
<line x1="210.80" y1="178.50" x2="210.80" y2="265.80" stroke="#20b8f0" stroke-width="1.3"/>
<line x1="217.50" y1="178.50" x2="217.50" y2="265.80" stroke="#20b8f0" stroke-width="1.3"/>
<line x1="219.70" y1="178.50" x2="219.70" y2="265.80" stroke="#20b8f0" stroke-width="1.3"/>
<line x1="220.80" y1="178.50" x2="220.80" y2="265.80" stroke="#20b8f0" stroke-width="1.3"/>
<line x1="232.50" y1="236.70" x2="232.50" y2="265.80" stroke="#ff1414" stroke-width="0.9"/>
<line x1="233.50" y1="222.15" x2="233.50" y2="265.80" stroke="#ff1414" stroke-width="0.9"/>
<line x1="234.50" y1="222.15" x2="234.50" y2="265.80" stroke="#ff1414" stroke-width="0.9"/>
<line x1="235.50" y1="251.25" x2="235.50" y2="265.80" stroke="#ff1414" stroke-width="0.9"/>
<line x1="236.50" y1="251.25" x2="236.50" y2="265.80" stroke="#ff1414" stroke-width="0.9"/>
<line x1="237.50" y1="236.70" x2="237.50" y2="265.80" stroke="#ff6464" stroke-width="0.9"/>
<line x1="238.55" y1="207.60" x2="238.55" y2="265.80" stroke="#ff1414" stroke-width="0.8"/>
<line x1="239.72" y1="236.70" x2="239.72" y2="265.80" stroke="#ff1414" stroke-width="0.8"/>
<line x1="240.50" y1="178.50" x2="240.50" y2="236.70" stroke="#ff6464" stroke-width="0.9"/>
<line x1="240.39" y1="207.60" x2="240.39" y2="265.80" stroke="#ff1414" stroke-width="0.8"/>
<line x1="241.50" y1="222.15" x2="241.50" y2="265.80" stroke="#ff6464" stroke-width="0.9"/>
<line x1="242.50" y1="222.15" x2="242.50" y2="265.80" stroke="#ff6464" stroke-width="0.9"/>
<line x1="243.50" y1="222.15" x2="243.50" y2="265.80" stroke="#ff1414" stroke-width="0.9"/>
<line x1="244.50" y1="222.15" x2="244.50" y2="265.80" stroke="#ff1414" stroke-width="0.9"/>
<line x1="246.50" y1="207.60" x2="246.50" y2="265.80" stroke="#ff6464" stroke-width="0.9"/>
<line x1="247.50" y1="207.60" x2="247.50" y2="236.70" stroke="#ff1414" stroke-width="0.9"/>
<line x1="248.50" y1="251.25" x2="248.50" y2="265.80" stroke="#ff1414" stroke-width="0.9"/>
<line x1="250.50" y1="251.25" x2="250.50" y2="265.80" stroke="#ff1414" stroke-width="0.9"/>
<line x1="251.50" y1="251.25" x2="251.50" y2="265.80" stroke="#ff1414" stroke-width="0.9"/>
<line x1="253.50" y1="222.15" x2="253.50" y2="265.80" stroke="#ff6464" stroke-width="0.9"/>
<line x1="254.50" y1="207.60" x2="254.50" y2="265.80" stroke="#ff6464" stroke-width="0.9"/>
<line x1="255.50" y1="222.15" x2="255.50" y2="265.80" stroke="#ff6464" stroke-width="0.9"/>
<line x1="257.50" y1="207.60" x2="257.50" y2="265.80" stroke="#ff1414" stroke-width="0.9"/>
<line x1="259.50" y1="222.15" x2="259.50" y2="265.80" stroke="#ff6464" stroke-width="0.9"/>
<line x1="260.50" y1="207.60" x2="260.50" y2="265.80" stroke="#ff6464" stroke-width="0.9"/>
<line x1="261.50" y1="222.15" x2="261.50" y2="265.80" stroke="#ff1414" stroke-width="0.9"/>
<line x1="262.50" y1="222.15" x2="262.50" y2="265.80" stroke="#ff1414" stroke-width="0.9"/>
<line x1="263.50" y1="251.25" x2="263.50" y2="265.80" stroke="#ff6464" stroke-width="0.9"/>
<line x1="264.50" y1="236.70" x2="264.50" y2="265.80" stroke="#ff1414" stroke-width="0.9"/>
<line x1="265.50" y1="236.70" x2="265.50" y2="265.80" stroke="#ff6464" stroke-width="0.9"/>
<line x1="267.50" y1="251.25" x2="267.50" y2="265.80" stroke="#ff6464" stroke-width="0.9"/>
<line x1="268.50" y1="251.25" x2="268.50" y2="265.80" stroke="#ff6464" stroke-width="0.9"/>
<line x1="269.50" y1="236.70" x2="269.50" y2="265.80" stroke="#ff1414" stroke-width="0.9"/>
<line x1="271.50" y1="222.15" x2="271.50" y2="265.80" stroke="#ff1414" stroke-width="0.9"/>
<line x1="272.50" y1="236.70" x2="272.50" y2="265.80" stroke="#ff1414" stroke-width="0.9"/>
<line x1="273.50" y1="207.60" x2="273.50" y2="265.80" stroke="#ff6464" stroke-width="0.9"/>
<line x1="274.50" y1="207.60" x2="274.50" y2="265.80" stroke="#ff6464" stroke-width="0.9"/>
<line x1="275.50" y1="222.15" x2="275.50" y2="265.80" stroke="#ff1414" stroke-width="0.9"/>
<line x1="276.50" y1="222.15" x2="276.50" y2="265.80" stroke="#ff1414" stroke-width="0.9"/>
<line x1="278.50" y1="236.70" x2="278.50" y2="265.80" stroke="#ff1414" stroke-width="0.9"/>
<line x1="279.50" y1="236.70" x2="279.50" y2="265.80" stroke="#ff1414" stroke-width="0.9"/>
<line x1="280.50" y1="222.15" x2="280.50" y2="265.80" stroke="#ff6464" stroke-width="0.9"/>
<line x1="281.50" y1="236.70" x2="281.50" y2="265.80" stroke="#ff6464" stroke-width="0.9"/>
<line x1="282.50" y1="222.15" x2="282.50" y2="265.80" stroke="#ff6464" stroke-width="0.9"/>
<line x1="283.50" y1="251.25" x2="283.50" y2="265.80" stroke="#ff1414" stroke-width="0.9"/>
<line x1="285.50" y1="178.50" x2="285.50" y2="265.80" stroke="#ff6464" stroke-width="0.9"/>
<line x1="285.29" y1="236.70" x2="285.29" y2="265.80" stroke="#ff1414" stroke-width="0.8"/>
<line x1="286.62" y1="207.60" x2="286.62" y2="265.80" stroke="#ff1414" stroke-width="0.8"/>
<line x1="287.50" y1="178.50" x2="287.50" y2="236.70" stroke="#ff6464" stroke-width="0.9"/>
<line x1="287.61" y1="207.60" x2="287.61" y2="265.80" stroke="#ff1414" stroke-width="0.8"/>
<line x1="288.59" y1="207.60" x2="288.59" y2="265.80" stroke="#ff1414" stroke-width="0.8"/>
<line x1="289.42" y1="207.60" x2="289.42" y2="265.80" stroke="#ff1414" stroke-width="0.8"/>
<line x1="290.50" y1="178.50" x2="290.50" y2="265.80" stroke="#ff6464" stroke-width="0.9"/>
<line x1="290.67" y1="236.70" x2="290.67" y2="265.80" stroke="#ff1414" stroke-width="0.8"/>
<line x1="291.67" y1="207.60" x2="291.67" y2="265.80" stroke="#ff1414" stroke-width="0.8"/>
<line x1="294.50" y1="222.15" x2="294.50" y2="265.80" stroke="#ff1414" stroke-width="0.9"/>
<line x1="296.32" y1="236.70" x2="296.32" y2="265.80" stroke="#ff1414" stroke-width="0.8"/>
<line x1="297.50" y1="222.15" x2="297.50" y2="265.80" stroke="#ff6464" stroke-width="0.9"/>
<line x1="298.50" y1="236.70" x2="298.50" y2="265.80" stroke="#ff1414" stroke-width="0.9"/>
<line x1="299.50" y1="222.15" x2="299.50" y2="265.80" stroke="#ff1414" stroke-width="0.9"/>
<line x1="300.50" y1="207.60" x2="300.50" y2="265.80" stroke="#ff6464" stroke-width="0.9"/>
<line x1="301.50" y1="207.60" x2="301.50" y2="236.70" stroke="#ff1414" stroke-width="0.9"/>
<line x1="302.50" y1="207.60" x2="302.50" y2="265.80" stroke="#ff6464" stroke-width="0.9"/>
<line x1="303.50" y1="207.60" x2="303.50" y2="265.80" stroke="#ff6464" stroke-width="0.9"/>
<line x1="304.50" y1="207.60" x2="304.50" y2="265.80" stroke="#ff1414" stroke-width="0.9"/>
<line x1="305.50" y1="178.50" x2="305.50" y2="265.80" stroke="#ff6464" stroke-width="0.9"/>
<line x1="305.30" y1="207.60" x2="305.30" y2="265.80" stroke="#ff1414" stroke-width="0.8"/>
<line x1="306.50" y1="178.50" x2="306.50" y2="236.70" stroke="#ff6464" stroke-width="0.9"/>
<line x1="307.70" y1="178.50" x2="307.70" y2="265.80" stroke="#ff1414" stroke-width="0.8"/>
<line x1="308.53" y1="207.60" x2="308.53" y2="265.80" stroke="#ff1414" stroke-width="0.8"/>
<line x1="309.50" y1="178.50" x2="309.50" y2="236.70" stroke="#ff6464" stroke-width="0.9"/>
<line x1="309.52" y1="207.60" x2="309.52" y2="265.80" stroke="#ff1414" stroke-width="0.8"/>
<line x1="310.50" y1="236.70" x2="310.50" y2="265.80" stroke="#ff6464" stroke-width="0.9"/>
<line x1="311.50" y1="222.15" x2="311.50" y2="265.80" stroke="#ff1414" stroke-width="0.9"/>
<line x1="312.50" y1="222.15" x2="312.50" y2="265.80" stroke="#ff1414" stroke-width="0.9"/>
<line x1="314.50" y1="178.50" x2="314.50" y2="236.70" stroke="#ff6464" stroke-width="0.9"/>
<line x1="314.47" y1="178.50" x2="314.47" y2="265.80" stroke="#ff1414" stroke-width="0.8"/>
<line x1="315.50" y1="207.60" x2="315.50" y2="236.70" stroke="#ff1414" stroke-width="0.9"/>
<line x1="316.50" y1="222.15" x2="316.50" y2="265.80" stroke="#ff6464" stroke-width="0.9"/>
<line x1="318.50" y1="207.60" x2="318.50" y2="265.80" stroke="#ff6464" stroke-width="0.9"/>
<line x1="319.50" y1="207.60" x2="319.50" y2="265.80" stroke="#ff6464" stroke-width="0.9"/>
<line x1="320.50" y1="222.15" x2="320.50" y2="265.80" stroke="#ff6464" stroke-width="0.9"/>
<line x1="321.50" y1="207.60" x2="321.50" y2="265.80" stroke="#ff1414" stroke-width="0.9"/>
<line x1="322.50" y1="251.25" x2="322.50" y2="265.80" stroke="#ff6464" stroke-width="0.9"/>
<line x1="323.50" y1="236.70" x2="323.50" y2="265.80" stroke="#ff1414" stroke-width="0.9"/>
<line x1="324.50" y1="236.70" x2="324.50" y2="265.80" stroke="#ff6464" stroke-width="0.9"/>
<line x1="325.50" y1="251.25" x2="325.50" y2="265.80" stroke="#ff1414" stroke-width="0.9"/>
<line x1="326.50" y1="222.15" x2="326.50" y2="265.80" stroke="#ff6464" stroke-width="0.9"/>
<line x1="327.50" y1="207.60" x2="327.50" y2="265.80" stroke="#ff1414" stroke-width="0.9"/>
<line x1="328.50" y1="222.15" x2="328.50" y2="265.80" stroke="#ff1414" stroke-width="0.9"/>
<line x1="329.50" y1="207.60" x2="329.50" y2="265.80" stroke="#ff6464" stroke-width="0.9"/>
<line x1="330.50" y1="207.60" x2="330.50" y2="236.70" stroke="#ff6464" stroke-width="0.9"/>
<line x1="331.50" y1="207.60" x2="331.50" y2="265.80" stroke="#ff6464" stroke-width="0.9"/>
<line x1="332.50" y1="207.60" x2="332.50" y2="265.80" stroke="#ff6464" stroke-width="0.9"/>
<line x1="333.50" y1="207.60" x2="333.50" y2="265.80" stroke="#ff6464" stroke-width="0.9"/>
<line x1="335.50" y1="222.15" x2="335.50" y2="265.80" stroke="#ff1414" stroke-width="0.9"/>
<line x1="336.50" y1="178.50" x2="336.50" y2="265.80" stroke="#ff6464" stroke-width="0.9"/>
<line x1="336.53" y1="178.50" x2="336.53" y2="265.80" stroke="#ff1414" stroke-width="0.8"/>
<line x1="337.51" y1="236.70" x2="337.51" y2="265.80" stroke="#ff1414" stroke-width="0.8"/>
<line x1="338.79" y1="207.60" x2="338.79" y2="265.80" stroke="#ff1414" stroke-width="0.8"/>
<line x1="340.50" y1="207.60" x2="340.50" y2="265.80" stroke="#ff1414" stroke-width="0.9"/>
<line x1="341.50" y1="207.60" x2="341.50" y2="265.80" stroke="#ff6464" stroke-width="0.9"/>
<line x1="342.50" y1="207.60" x2="342.50" y2="265.80" stroke="#ff1414" stroke-width="0.9"/>
<line x1="343.50" y1="222.15" x2="343.50" y2="236.70" stroke="#ff1414" stroke-width="0.9"/>
<line x1="344.50" y1="207.60" x2="344.50" y2="265.80" stroke="#ff1414" stroke-width="0.9"/>
<line x1="345.21" y1="207.60" x2="345.21" y2="265.80" stroke="#ff1414" stroke-width="0.8"/>
<line x1="346.71" y1="207.60" x2="346.71" y2="265.80" stroke="#ff1414" stroke-width="0.8"/>
<line x1="347.50" y1="207.60" x2="347.50" y2="265.80" stroke="#ff1414" stroke-width="0.9"/>
<line x1="349.50" y1="178.50" x2="349.50" y2="265.80" stroke="#ff6464" stroke-width="0.9"/>
<line x1="349.23" y1="207.60" x2="349.23" y2="265.80" stroke="#ff1414" stroke-width="0.8"/>
<line x1="351.50" y1="178.50" x2="351.50" y2="265.80" stroke="#ff6464" stroke-width="0.9"/>
<line x1="351.39" y1="236.70" x2="351.39" y2="265.80" stroke="#ff1414" stroke-width="0.8"/>
<line x1="352.47" y1="207.60" x2="352.47" y2="265.80" stroke="#ff1414" stroke-width="0.8"/>
<line x1="353.50" y1="178.50" x2="353.50" y2="265.80" stroke="#ff6464" stroke-width="0.9"/>
<line x1="354.50" y1="207.60" x2="354.50" y2="236.70" stroke="#ff1414" stroke-width="0.9"/>
<line x1="356.50" y1="236.70" x2="356.50" y2="265.80" stroke="#ff6464" stroke-width="0.9"/>
<line x1="357.50" y1="207.60" x2="357.50" y2="265.80" stroke="#ff1414" stroke-width="0.9"/>
<line x1="358.50" y1="251.25" x2="358.50" y2="265.80" stroke="#ff6464" stroke-width="0.9"/>
<line x1="359.50" y1="178.50" x2="359.50" y2="265.80" stroke="#ff6464" stroke-width="0.9"/>
<line x1="360.50" y1="178.50" x2="360.50" y2="236.70" stroke="#ff6464" stroke-width="0.9"/>
<line x1="360.28" y1="236.70" x2="360.28" y2="265.80" stroke="#ff1414" stroke-width="0.8"/>
<line x1="362.50" y1="178.50" x2="362.50" y2="236.70" stroke="#ff6464" stroke-width="0.9"/>
<line x1="362.35" y1="207.60" x2="362.35" y2="265.80" stroke="#ff1414" stroke-width="0.8"/>
<line x1="363.50" y1="178.50" x2="363.50" y2="236.70" stroke="#ff6464" stroke-width="0.9"/>
<line x1="364.37" y1="207.60" x2="364.37" y2="265.80" stroke="#ff1414" stroke-width="0.8"/>
<line x1="366.50" y1="207.60" x2="366.50" y2="265.80" stroke="#ff1414" stroke-width="0.9"/>
<line x1="367.50" y1="222.15" x2="367.50" y2="265.80" stroke="#ff6464" stroke-width="0.9"/>
<line x1="369.50" y1="236.70" x2="369.50" y2="265.80" stroke="#ff1414" stroke-width="0.9"/>
<line x1="371.50" y1="236.70" x2="371.50" y2="265.80" stroke="#ff1414" stroke-width="0.9"/>
<line x1="372.50" y1="251.25" x2="372.50" y2="265.80" stroke="#ff1414" stroke-width="0.9"/>
<line x1="374.50" y1="236.70" x2="374.50" y2="265.80" stroke="#ff1414" stroke-width="0.9"/>
<line x1="376.50" y1="222.15" x2="376.50" y2="265.80" stroke="#ff1414" stroke-width="0.9"/>
<line x1="377.50" y1="222.15" x2="377.50" y2="265.80" stroke="#ff6464" stroke-width="0.9"/>
<line x1="378.50" y1="178.50" x2="378.50" y2="236.70" stroke="#ff6464" stroke-width="0.9"/>
<line x1="379.50" y1="178.50" x2="379.50" y2="236.70" stroke="#ff6464" stroke-width="0.9"/>
<line x1="381.37" y1="207.60" x2="381.37" y2="265.80" stroke="#ff1414" stroke-width="0.8"/>
<line x1="382.50" y1="178.50" x2="382.50" y2="236.70" stroke="#ff6464" stroke-width="0.9"/>
<line x1="383.69" y1="207.60" x2="383.69" y2="265.80" stroke="#ff1414" stroke-width="0.8"/>
<line x1="384.50" y1="207.60" x2="384.50" y2="236.70" stroke="#ff1414" stroke-width="0.9"/>
<line x1="388.50" y1="236.70" x2="388.50" y2="265.80" stroke="#ff1414" stroke-width="0.9"/>
<line x1="390.50" y1="178.50" x2="390.50" y2="265.80" stroke="#ff6464" stroke-width="0.9"/>
<line x1="390.58" y1="207.60" x2="390.58" y2="265.80" stroke="#ff1414" stroke-width="0.8"/>
<line x1="391.50" y1="178.50" x2="391.50" y2="265.80" stroke="#ff6464" stroke-width="0.9"/>
<line x1="391.24" y1="207.60" x2="391.24" y2="265.80" stroke="#ff1414" stroke-width="0.8"/>
<line x1="392.50" y1="236.70" x2="392.50" y2="265.80" stroke="#ff6464" stroke-width="0.9"/>
<line x1="393.50" y1="236.70" x2="393.50" y2="265.80" stroke="#ff6464" stroke-width="0.9"/>
<line x1="394.50" y1="236.70" x2="394.50" y2="265.80" stroke="#ff1414" stroke-width="0.9"/>
<line x1="395.50" y1="251.25" x2="395.50" y2="265.80" stroke="#ff1414" stroke-width="0.9"/>
<line x1="396.50" y1="222.15" x2="396.50" y2="236.70" stroke="#ff1414" stroke-width="0.9"/>
<line x1="397.50" y1="207.60" x2="397.50" y2="265.80" stroke="#ff6464" stroke-width="0.9"/>
<line x1="398.50" y1="236.70" x2="398.50" y2="265.80" stroke="#ff1414" stroke-width="0.9"/>
<line x1="399.50" y1="222.15" x2="399.50" y2="265.80" stroke="#ff6464" stroke-width="0.9"/>
<line x1="400.50" y1="251.25" x2="400.50" y2="265.80" stroke="#ff1414" stroke-width="0.9"/>
<line x1="401.50" y1="207.60" x2="401.50" y2="265.80" stroke="#ff1414" stroke-width="0.9"/>
<line x1="402.50" y1="251.25" x2="402.50" y2="265.80" stroke="#ff1414" stroke-width="0.9"/>
<line x1="403.50" y1="251.25" x2="403.50" y2="265.80" stroke="#ff1414" stroke-width="0.9"/>
<line x1="406.50" y1="222.15" x2="406.50" y2="265.80" stroke="#ff6464" stroke-width="0.9"/>
<line x1="408.50" y1="251.25" x2="408.50" y2="265.80" stroke="#ff1414" stroke-width="0.9"/>
<line x1="410.75" y1="207.60" x2="410.75" y2="265.80" stroke="#ff1414" stroke-width="0.8"/>
<line x1="411.50" y1="178.50" x2="411.50" y2="265.80" stroke="#ff6464" stroke-width="0.9"/>
<line x1="411.51" y1="236.70" x2="411.51" y2="265.80" stroke="#ff1414" stroke-width="0.8"/>
<line x1="412.50" y1="207.60" x2="412.50" y2="265.80" stroke="#ff6464" stroke-width="0.9"/>
<line x1="414.50" y1="207.60" x2="414.50" y2="265.80" stroke="#ff6464" stroke-width="0.9"/>
<line x1="415.50" y1="207.60" x2="415.50" y2="265.80" stroke="#ff1414" stroke-width="0.9"/>
<line x1="416.50" y1="222.15" x2="416.50" y2="265.80" stroke="#ff1414" stroke-width="0.9"/>
<line x1="417.50" y1="207.60" x2="417.50" y2="265.80" stroke="#ff1414" stroke-width="0.9"/>
<line x1="418.50" y1="207.60" x2="418.50" y2="265.80" stroke="#ff6464" stroke-width="0.9"/>
<line x1="420.50" y1="178.50" x2="420.50" y2="265.80" stroke="#ff6464" stroke-width="0.9"/>
<line x1="420.74" y1="236.70" x2="420.74" y2="265.80" stroke="#ff1414" stroke-width="0.8"/>
<line x1="421.50" y1="178.50" x2="421.50" y2="265.80" stroke="#ff6464" stroke-width="0.9"/>
<line x1="421.80" y1="207.60" x2="421.80" y2="265.80" stroke="#ff1414" stroke-width="0.8"/>
<line x1="422.50" y1="178.50" x2="422.50" y2="265.80" stroke="#ff6464" stroke-width="0.9"/>
<line x1="423.23" y1="236.70" x2="423.23" y2="265.80" stroke="#ff1414" stroke-width="0.8"/>
<line x1="425.50" y1="178.50" x2="425.50" y2="265.80" stroke="#ff6464" stroke-width="0.9"/>
<line x1="425.39" y1="236.70" x2="425.39" y2="265.80" stroke="#ff1414" stroke-width="0.8"/>
<line x1="426.22" y1="178.50" x2="426.22" y2="265.80" stroke="#ff1414" stroke-width="0.8"/>
<line x1="428.50" y1="207.60" x2="428.50" y2="265.80" stroke="#ff1414" stroke-width="0.9"/>
<line x1="430.50" y1="207.60" x2="430.50" y2="236.70" stroke="#ff6464" stroke-width="0.9"/>
<line x1="431.50" y1="207.60" x2="431.50" y2="265.80" stroke="#ff1414" stroke-width="0.9"/>
<line x1="432.50" y1="222.15" x2="432.50" y2="265.80" stroke="#ff1414" stroke-width="0.9"/>
<line x1="435.50" y1="207.60" x2="435.50" y2="265.80" stroke="#ff1414" stroke-width="0.9"/>
<line x1="436.50" y1="207.60" x2="436.50" y2="265.80" stroke="#ff6464" stroke-width="0.9"/>
<line x1="437.50" y1="222.15" x2="437.50" y2="265.80" stroke="#ff6464" stroke-width="0.9"/>
<line x1="438.50" y1="236.70" x2="438.50" y2="265.80" stroke="#ff1414" stroke-width="0.9"/>
<line x1="439.50" y1="251.25" x2="439.50" y2="265.80" stroke="#ff1414" stroke-width="0.9"/>
<line x1="440.50" y1="236.70" x2="440.50" y2="265.80" stroke="#ff1414" stroke-width="0.9"/>
<line x1="441.50" y1="207.60" x2="441.50" y2="265.80" stroke="#ff1414" stroke-width="0.9"/>
<line x1="442.50" y1="207.60" x2="442.50" y2="265.80" stroke="#ff6464" stroke-width="0.9"/>
<line x1="443.50" y1="222.15" x2="443.50" y2="236.70" stroke="#ff1414" stroke-width="0.9"/>
<line x1="444.50" y1="222.15" x2="444.50" y2="265.80" stroke="#ff6464" stroke-width="0.9"/>
<line x1="445.50" y1="178.50" x2="445.50" y2="236.70" stroke="#ff6464" stroke-width="0.9"/>
<line x1="446.50" y1="178.50" x2="446.50" y2="236.70" stroke="#ff6464" stroke-width="0.9"/>
<line x1="446.67" y1="207.60" x2="446.67" y2="265.80" stroke="#ff1414" stroke-width="0.8"/>
<line x1="447.50" y1="236.70" x2="447.50" y2="265.80" stroke="#ff1414" stroke-width="0.9"/>
<line x1="449.50" y1="222.15" x2="449.50" y2="265.80" stroke="#ff6464" stroke-width="0.9"/>
<line x1="450.50" y1="207.60" x2="450.50" y2="265.80" stroke="#ff1414" stroke-width="0.9"/>
<line x1="451.50" y1="222.15" x2="451.50" y2="236.70" stroke="#ff1414" stroke-width="0.9"/>
<line x1="452.50" y1="222.15" x2="452.50" y2="265.80" stroke="#ff6464" stroke-width="0.9"/>
<line x1="454.50" y1="236.70" x2="454.50" y2="265.80" stroke="#ff1414" stroke-width="0.9"/>
<line x1="455.50" y1="207.60" x2="455.50" y2="236.70" stroke="#ff6464" stroke-width="0.9"/>
<line x1="456.50" y1="222.15" x2="456.50" y2="265.80" stroke="#ff1414" stroke-width="0.9"/>
<line x1="457.50" y1="236.70" x2="457.50" y2="265.80" stroke="#ff1414" stroke-width="0.9"/>
<line x1="460.50" y1="236.70" x2="460.50" y2="265.80" stroke="#ff6464" stroke-width="0.9"/>
<line x1="461.66" y1="207.60" x2="461.66" y2="265.80" stroke="#ff1414" stroke-width="0.8"/>
<line x1="462.50" y1="178.50" x2="462.50" y2="236.70" stroke="#ff6464" stroke-width="0.9"/>
<line x1="463.50" y1="178.50" x2="463.50" y2="265.80" stroke="#ff6464" stroke-width="0.9"/>
<line x1="463.56" y1="207.60" x2="463.56" y2="265.80" stroke="#ff1414" stroke-width="0.8"/>
<line x1="465.50" y1="178.50" x2="465.50" y2="265.80" stroke="#ff6464" stroke-width="0.9"/>
<line x1="465.73" y1="178.50" x2="465.73" y2="265.80" stroke="#ff1414" stroke-width="0.8"/>
<line x1="466.50" y1="222.15" x2="466.50" y2="265.80" stroke="#ff1414" stroke-width="0.9"/>
<line x1="468.50" y1="207.60" x2="468.50" y2="265.80" stroke="#ff1414" stroke-width="0.9"/>
<line x1="469.50" y1="207.60" x2="469.50" y2="265.80" stroke="#ff6464" stroke-width="0.9"/>
<line x1="470.50" y1="236.70" x2="470.50" y2="265.80" stroke="#ff6464" stroke-width="0.9"/>
<line x1="472.50" y1="207.60" x2="472.50" y2="236.70" stroke="#ff1414" stroke-width="0.9"/>
<line x1="473.50" y1="222.15" x2="473.50" y2="265.80" stroke="#ff1414" stroke-width="0.9"/>
<line x1="474.50" y1="207.60" x2="474.50" y2="265.80" stroke="#ff1414" stroke-width="0.9"/>
<line x1="475.50" y1="207.60" x2="475.50" y2="265.80" stroke="#ff1414" stroke-width="0.9"/>
<line x1="476.50" y1="222.15" x2="476.50" y2="265.80" stroke="#ff1414" stroke-width="0.9"/>
<line x1="478.50" y1="236.70" x2="478.50" y2="265.80" stroke="#ff1414" stroke-width="0.9"/>
<line x1="479.50" y1="207.60" x2="479.50" y2="236.70" stroke="#ff1414" stroke-width="0.9"/>
<line x1="480.50" y1="207.60" x2="480.50" y2="265.80" stroke="#ff6464" stroke-width="0.9"/>
<line x1="481.50" y1="236.70" x2="481.50" y2="265.80" stroke="#ff6464" stroke-width="0.9"/>
<line x1="482.50" y1="251.25" x2="482.50" y2="265.80" stroke="#ff6464" stroke-width="0.9"/>
<line x1="484.50" y1="236.70" x2="484.50" y2="265.80" stroke="#ff6464" stroke-width="0.9"/>
<line x1="485.50" y1="236.70" x2="485.50" y2="265.80" stroke="#ff6464" stroke-width="0.9"/>
<line x1="486.50" y1="222.15" x2="486.50" y2="265.80" stroke="#ff1414" stroke-width="0.9"/>
<line x1="487.50" y1="222.15" x2="487.50" y2="265.80" stroke="#ff6464" stroke-width="0.9"/>
<line x1="488.50" y1="207.60" x2="488.50" y2="265.80" stroke="#ff1414" stroke-width="0.9"/>
<line x1="489.50" y1="222.15" x2="489.50" y2="265.80" stroke="#ff1414" stroke-width="0.9"/>
<line x1="490.50" y1="222.15" x2="490.50" y2="265.80" stroke="#ff6464" stroke-width="0.9"/>
<line x1="491.50" y1="178.50" x2="491.50" y2="265.80" stroke="#ff6464" stroke-width="0.9"/>
<line x1="491.62" y1="207.60" x2="491.62" y2="265.80" stroke="#ff1414" stroke-width="0.8"/>
<line x1="492.50" y1="178.50" x2="492.50" y2="265.80" stroke="#ff6464" stroke-width="0.9"/>
<line x1="492.42" y1="178.50" x2="492.42" y2="265.80" stroke="#ff1414" stroke-width="0.8"/>
<line x1="493.50" y1="178.50" x2="493.50" y2="265.80" stroke="#ff6464" stroke-width="0.9"/>
<line x1="493.58" y1="178.50" x2="493.58" y2="265.80" stroke="#ff1414" stroke-width="0.8"/>
<line x1="494.50" y1="178.50" x2="494.50" y2="265.80" stroke="#ff6464" stroke-width="0.9"/>
<line x1="494.68" y1="207.60" x2="494.68" y2="265.80" stroke="#ff1414" stroke-width="0.8"/>
<line x1="495.50" y1="207.60" x2="495.50" y2="265.80" stroke="#ff1414" stroke-width="0.9"/>
<line x1="496.40" y1="207.60" x2="496.40" y2="265.80" stroke="#ff1414" stroke-width="0.8"/>
<line x1="497.50" y1="178.50" x2="497.50" y2="236.70" stroke="#ff6464" stroke-width="0.9"/>
<line x1="497.75" y1="236.70" x2="497.75" y2="265.80" stroke="#ff1414" stroke-width="0.8"/>
<line x1="498.50" y1="178.50" x2="498.50" y2="236.70" stroke="#ff6464" stroke-width="0.9"/>
<line x1="500.50" y1="236.70" x2="500.50" y2="265.80" stroke="#ff1414" stroke-width="0.9"/>
<line x1="501.67" y1="236.70" x2="501.67" y2="265.80" stroke="#ff1414" stroke-width="0.8"/>
<line x1="503.50" y1="178.50" x2="503.50" y2="265.80" stroke="#ff6464" stroke-width="0.9"/>
<line x1="503.68" y1="236.70" x2="503.68" y2="265.80" stroke="#ff1414" stroke-width="0.8"/>
<line x1="505.39" y1="236.70" x2="505.39" y2="265.80" stroke="#ff1414" stroke-width="0.8"/>
<line x1="507.50" y1="222.15" x2="507.50" y2="265.80" stroke="#ff1414" stroke-width="0.9"/>
<line x1="508.24" y1="207.60" x2="508.24" y2="265.80" stroke="#ff1414" stroke-width="0.8"/>
<line x1="509.50" y1="222.15" x2="509.50" y2="265.80" stroke="#ff1414" stroke-width="0.9"/>
<line x1="233.20" y1="265.80" x2="233.20" y2="294.90" stroke="#ff1414" stroke-width="1.0"/>
<line x1="307.50" y1="265.80" x2="307.50" y2="294.90" stroke="#ff1414" stroke-width="1.0"/>
<line x1="352.60" y1="265.80" x2="352.60" y2="294.90" stroke="#ff1414" stroke-width="1.0"/>
<line x1="239.90" y1="265.80" x2="239.90" y2="324.00" stroke="#ff1414" stroke-width="1.25"/>
<line x1="242.20" y1="265.80" x2="242.20" y2="324.00" stroke="#ff1414" stroke-width="1.25"/>
<line x1="244.00" y1="236.70" x2="244.00" y2="324.00" stroke="#ff1414" stroke-width="1.25"/>
<line x1="256.70" y1="265.80" x2="256.70" y2="324.00" stroke="#ff1414" stroke-width="1.25"/>
<line x1="258.30" y1="265.80" x2="258.30" y2="324.00" stroke="#ff1414" stroke-width="1.25"/>
<line x1="269.00" y1="265.80" x2="269.00" y2="324.00" stroke="#ff1414" stroke-width="1.25"/>
<line x1="271.20" y1="236.70" x2="271.20" y2="324.00" stroke="#ff1414" stroke-width="1.25"/>
<line x1="275.70" y1="236.70" x2="275.70" y2="324.00" stroke="#ff1414" stroke-width="1.25"/>
<line x1="277.30" y1="236.70" x2="277.30" y2="324.00" stroke="#ff1414" stroke-width="1.25"/>
<line x1="281.30" y1="265.80" x2="281.30" y2="324.00" stroke="#ff1414" stroke-width="1.25"/>
<line x1="284.60" y1="265.80" x2="284.60" y2="324.00" stroke="#ff1414" stroke-width="1.25"/>
<line x1="298.00" y1="265.80" x2="298.00" y2="324.00" stroke="#ff1414" stroke-width="1.25"/>
<line x1="300.30" y1="236.70" x2="300.30" y2="324.00" stroke="#ff1414" stroke-width="1.25"/>
<line x1="302.00" y1="236.70" x2="302.00" y2="324.00" stroke="#ff1414" stroke-width="1.25"/>
<line x1="303.60" y1="265.80" x2="303.60" y2="324.00" stroke="#ff1414" stroke-width="1.25"/>
<line x1="305.90" y1="265.80" x2="305.90" y2="324.00" stroke="#ff1414" stroke-width="1.25"/>
<line x1="311.40" y1="236.70" x2="311.40" y2="324.00" stroke="#ff1414" stroke-width="1.25"/>
<line x1="314.80" y1="236.70" x2="314.80" y2="324.00" stroke="#ff1414" stroke-width="1.25"/>
<line x1="317.00" y1="236.70" x2="317.00" y2="324.00" stroke="#ff1414" stroke-width="1.25"/>
<line x1="322.60" y1="236.70" x2="322.60" y2="324.00" stroke="#ff1414" stroke-width="1.25"/>
<line x1="324.90" y1="236.70" x2="324.90" y2="324.00" stroke="#ff1414" stroke-width="1.25"/>
<line x1="330.40" y1="236.70" x2="330.40" y2="324.00" stroke="#ff1414" stroke-width="1.25"/>
<line x1="332.70" y1="236.70" x2="332.70" y2="324.00" stroke="#ff1414" stroke-width="1.25"/>
<line x1="339.40" y1="265.80" x2="339.40" y2="324.00" stroke="#ff1414" stroke-width="1.25"/>
<line x1="341.60" y1="236.70" x2="341.60" y2="324.00" stroke="#ff1414" stroke-width="1.25"/>
<line x1="347.20" y1="265.80" x2="347.20" y2="324.00" stroke="#ff1414" stroke-width="1.25"/>
<line x1="349.40" y1="265.80" x2="349.40" y2="324.00" stroke="#ff1414" stroke-width="1.25"/>
<line x1="352.10" y1="265.80" x2="352.10" y2="324.00" stroke="#ff1414" stroke-width="1.25"/>
<line x1="370.50" y1="265.80" x2="370.50" y2="324.00" stroke="#ff1414" stroke-width="1.25"/>
<line x1="398.50" y1="265.80" x2="398.50" y2="324.00" stroke="#ff1414" stroke-width="1.25"/>
<line x1="404.60" y1="236.70" x2="404.60" y2="324.00" stroke="#ff1414" stroke-width="1.25"/>
<line x1="406.90" y1="265.80" x2="406.90" y2="324.00" stroke="#ff1414" stroke-width="1.25"/>
<line x1="415.80" y1="236.70" x2="415.80" y2="324.00" stroke="#ff1414" stroke-width="1.25"/>
<line x1="417.00" y1="265.80" x2="417.00" y2="324.00" stroke="#ff1414" stroke-width="1.25"/>
<line x1="421.40" y1="236.70" x2="421.40" y2="324.00" stroke="#ff1414" stroke-width="1.25"/>
<line x1="423.60" y1="236.70" x2="423.60" y2="324.00" stroke="#ff1414" stroke-width="1.25"/>
<line x1="432.60" y1="265.80" x2="432.60" y2="324.00" stroke="#ff1414" stroke-width="1.25"/>
<line x1="434.50" y1="265.80" x2="434.50" y2="324.00" stroke="#ff1414" stroke-width="1.25"/>
<line x1="436.00" y1="265.80" x2="436.00" y2="324.00" stroke="#ff1414" stroke-width="1.25"/>
<line x1="439.50" y1="236.70" x2="439.50" y2="324.00" stroke="#ff1414" stroke-width="1.25"/>
<line x1="471.70" y1="265.80" x2="471.70" y2="324.00" stroke="#ff1414" stroke-width="1.25"/>
<line x1="477.40" y1="265.80" x2="477.40" y2="324.00" stroke="#ff1414" stroke-width="1.25"/>
<line x1="484.00" y1="265.80" x2="484.00" y2="324.00" stroke="#ff1414" stroke-width="1.25"/>
<line x1="488.50" y1="236.70" x2="488.50" y2="324.00" stroke="#ff1414" stroke-width="1.25"/>
<line x1="493.60" y1="265.80" x2="493.60" y2="324.00" stroke="#ff1414" stroke-width="1.25"/>
<line x1="495.80" y1="236.70" x2="495.80" y2="324.00" stroke="#ff1414" stroke-width="1.25"/>
<line x1="498.60" y1="236.70" x2="498.60" y2="324.00" stroke="#ff1414" stroke-width="1.25"/>
<line x1="504.70" y1="265.80" x2="504.70" y2="324.00" stroke="#ff1414" stroke-width="1.25"/>
<line x1="237.30" y1="178.50" x2="237.30" y2="265.80" stroke="#ff1414" stroke-width="1.15"/>
<line x1="238.00" y1="178.50" x2="238.00" y2="265.80" stroke="#ff1414" stroke-width="1.15"/>
<line x1="239.40" y1="178.50" x2="239.40" y2="265.80" stroke="#ff1414" stroke-width="1.15"/>
<line x1="240.80" y1="178.50" x2="240.80" y2="265.80" stroke="#ff1414" stroke-width="1.15"/>
<line x1="243.00" y1="178.50" x2="243.00" y2="265.80" stroke="#ff1414" stroke-width="1.15"/>
<line x1="243.60" y1="178.50" x2="243.60" y2="236.70" stroke="#ff1414" stroke-width="1.15"/>
<line x1="252.00" y1="178.50" x2="252.00" y2="236.70" stroke="#ff1414" stroke-width="1.15"/>
<line x1="252.80" y1="178.50" x2="252.80" y2="265.80" stroke="#ff1414" stroke-width="1.15"/>
<line x1="257.60" y1="178.50" x2="257.60" y2="265.80" stroke="#ff1414" stroke-width="1.15"/>
<line x1="271.60" y1="178.50" x2="271.60" y2="265.80" stroke="#ff1414" stroke-width="1.15"/>
<line x1="283.40" y1="178.50" x2="283.40" y2="236.70" stroke="#ff1414" stroke-width="1.15"/>
<line x1="284.60" y1="178.50" x2="284.60" y2="265.80" stroke="#ff1414" stroke-width="1.15"/>
<line x1="285.80" y1="178.50" x2="285.80" y2="265.80" stroke="#ff1414" stroke-width="1.15"/>
<line x1="287.00" y1="178.50" x2="287.00" y2="236.70" stroke="#ff1414" stroke-width="1.15"/>
<line x1="288.20" y1="178.50" x2="288.20" y2="265.80" stroke="#ff1414" stroke-width="1.15"/>
<line x1="289.90" y1="178.50" x2="289.90" y2="236.70" stroke="#ff1414" stroke-width="1.15"/>
<line x1="290.80" y1="178.50" x2="290.80" y2="265.80" stroke="#ff1414" stroke-width="1.15"/>
<line x1="293.80" y1="178.50" x2="293.80" y2="265.80" stroke="#ff1414" stroke-width="1.15"/>
<line x1="296.00" y1="178.50" x2="296.00" y2="236.70" stroke="#ff1414" stroke-width="1.15"/>
<line x1="306.00" y1="178.50" x2="306.00" y2="236.70" stroke="#ff1414" stroke-width="1.15"/>
<line x1="306.80" y1="178.50" x2="306.80" y2="236.70" stroke="#ff1414" stroke-width="1.15"/>
<line x1="308.80" y1="178.50" x2="308.80" y2="236.70" stroke="#ff1414" stroke-width="1.15"/>
<line x1="309.60" y1="178.50" x2="309.60" y2="265.80" stroke="#ff1414" stroke-width="1.15"/>
<line x1="311.60" y1="178.50" x2="311.60" y2="265.80" stroke="#ff1414" stroke-width="1.15"/>
<line x1="312.60" y1="178.50" x2="312.60" y2="265.80" stroke="#ff1414" stroke-width="1.15"/>
<line x1="327.90" y1="178.50" x2="327.90" y2="265.80" stroke="#ff1414" stroke-width="1.15"/>
<line x1="328.80" y1="178.50" x2="328.80" y2="265.80" stroke="#ff1414" stroke-width="1.15"/>
<line x1="337.40" y1="178.50" x2="337.40" y2="265.80" stroke="#ff1414" stroke-width="1.15"/>
<line x1="338.30" y1="178.50" x2="338.30" y2="265.80" stroke="#ff1414" stroke-width="1.15"/>
<line x1="346.00" y1="178.50" x2="346.00" y2="265.80" stroke="#ff1414" stroke-width="1.15"/>
<line x1="350.50" y1="178.50" x2="350.50" y2="265.80" stroke="#ff1414" stroke-width="1.15"/>
<line x1="351.60" y1="178.50" x2="351.60" y2="265.80" stroke="#ff1414" stroke-width="1.15"/>
<line x1="357.00" y1="178.50" x2="357.00" y2="236.70" stroke="#ff1414" stroke-width="1.15"/>
<line x1="359.80" y1="178.50" x2="359.80" y2="236.70" stroke="#ff1414" stroke-width="1.15"/>
<line x1="361.50" y1="178.50" x2="361.50" y2="236.70" stroke="#ff1414" stroke-width="1.15"/>
<line x1="364.30" y1="178.50" x2="364.30" y2="265.80" stroke="#ff1414" stroke-width="1.15"/>
<line x1="368.30" y1="178.50" x2="368.30" y2="265.80" stroke="#ff1414" stroke-width="1.15"/>
<line x1="371.50" y1="178.50" x2="371.50" y2="265.80" stroke="#ff1414" stroke-width="1.15"/>
<line x1="372.80" y1="178.50" x2="372.80" y2="265.80" stroke="#ff1414" stroke-width="1.15"/>
<line x1="376.00" y1="178.50" x2="376.00" y2="236.70" stroke="#ff1414" stroke-width="1.15"/>
<line x1="379.40" y1="178.50" x2="379.40" y2="265.80" stroke="#ff1414" stroke-width="1.15"/>
<line x1="382.80" y1="178.50" x2="382.80" y2="265.80" stroke="#ff1414" stroke-width="1.15"/>
<line x1="386.20" y1="178.50" x2="386.20" y2="236.70" stroke="#ff1414" stroke-width="1.15"/>
<line x1="389.50" y1="178.50" x2="389.50" y2="265.80" stroke="#ff1414" stroke-width="1.15"/>
<line x1="391.00" y1="178.50" x2="391.00" y2="265.80" stroke="#ff1414" stroke-width="1.15"/>
<line x1="400.60" y1="178.50" x2="400.60" y2="265.80" stroke="#ff1414" stroke-width="1.15"/>
<line x1="404.20" y1="178.50" x2="404.20" y2="265.80" stroke="#ff1414" stroke-width="1.15"/>
<line x1="410.00" y1="178.50" x2="410.00" y2="265.80" stroke="#ff1414" stroke-width="1.15"/>
<line x1="413.30" y1="178.50" x2="413.30" y2="236.70" stroke="#ff1414" stroke-width="1.15"/>
<line x1="421.40" y1="178.50" x2="421.40" y2="265.80" stroke="#ff1414" stroke-width="1.15"/>
<line x1="422.50" y1="178.50" x2="422.50" y2="265.80" stroke="#ff1414" stroke-width="1.15"/>
<line x1="423.40" y1="178.50" x2="423.40" y2="265.80" stroke="#ff1414" stroke-width="1.15"/>
<line x1="425.90" y1="178.50" x2="425.90" y2="265.80" stroke="#ff1414" stroke-width="1.15"/>
<line x1="427.00" y1="178.50" x2="427.00" y2="265.80" stroke="#ff1414" stroke-width="1.15"/>
<line x1="433.20" y1="178.50" x2="433.20" y2="236.70" stroke="#ff1414" stroke-width="1.15"/>
<line x1="438.60" y1="178.50" x2="438.60" y2="236.70" stroke="#ff1414" stroke-width="1.15"/>
<line x1="439.80" y1="178.50" x2="439.80" y2="265.80" stroke="#ff1414" stroke-width="1.15"/>
<line x1="445.80" y1="178.50" x2="445.80" y2="236.70" stroke="#ff1414" stroke-width="1.15"/>
<line x1="448.50" y1="178.50" x2="448.50" y2="236.70" stroke="#ff1414" stroke-width="1.15"/>
<line x1="453.80" y1="178.50" x2="453.80" y2="265.80" stroke="#ff1414" stroke-width="1.15"/>
<line x1="457.60" y1="178.50" x2="457.60" y2="236.70" stroke="#ff1414" stroke-width="1.15"/>
<line x1="459.00" y1="178.50" x2="459.00" y2="265.80" stroke="#ff1414" stroke-width="1.15"/>
<line x1="461.60" y1="178.50" x2="461.60" y2="265.80" stroke="#ff1414" stroke-width="1.15"/>
<line x1="462.80" y1="178.50" x2="462.80" y2="236.70" stroke="#ff1414" stroke-width="1.15"/>
<line x1="464.20" y1="178.50" x2="464.20" y2="265.80" stroke="#ff1414" stroke-width="1.15"/>
<line x1="465.60" y1="178.50" x2="465.60" y2="265.80" stroke="#ff1414" stroke-width="1.15"/>
<line x1="470.10" y1="178.50" x2="470.10" y2="265.80" stroke="#ff1414" stroke-width="1.15"/>
<line x1="477.60" y1="178.50" x2="477.60" y2="236.70" stroke="#ff1414" stroke-width="1.15"/>
<line x1="482.60" y1="178.50" x2="482.60" y2="265.80" stroke="#ff1414" stroke-width="1.15"/>
<line x1="492.20" y1="178.50" x2="492.20" y2="265.80" stroke="#ff1414" stroke-width="1.15"/>
<line x1="493.80" y1="178.50" x2="493.80" y2="265.80" stroke="#ff1414" stroke-width="1.15"/>
<line x1="497.30" y1="178.50" x2="497.30" y2="265.80" stroke="#ff1414" stroke-width="1.15"/>
<line x1="498.70" y1="178.50" x2="498.70" y2="236.70" stroke="#ff1414" stroke-width="1.15"/>
<line x1="502.40" y1="178.50" x2="502.40" y2="236.70" stroke="#ff1414" stroke-width="1.15"/>
<line x1="503.60" y1="178.50" x2="503.60" y2="265.80" stroke="#ff1414" stroke-width="1.15"/>
<line x1="505.00" y1="178.50" x2="505.00" y2="265.80" stroke="#ff1414" stroke-width="1.15"/>
<line x1="508.60" y1="178.50" x2="508.60" y2="265.80" stroke="#ff1414" stroke-width="1.15"/>
<line x1="128.8" y1="251.6" x2="224.4" y2="251.6" stroke="#222" stroke-width="1.2"/>
<line x1="231.9" y1="240.2" x2="511" y2="240.2" stroke="#222" stroke-width="1.2"/>
<rect x="128.8" y="162.8" width="95.6" height="162.2" fill="none" stroke="#555555" stroke-width="1.4"/>
<rect x="231.9" y="162.8" width="279.1" height="162.2" fill="none" stroke="#555555" stroke-width="1.4"/>
<line x1="128.8" y1="324.00" x2="131" y2="324.00" stroke="#555555" stroke-width="1"/>
<line x1="231.9" y1="324.00" x2="234" y2="324.00" stroke="#555555" stroke-width="1"/>
<line x1="128.8" y1="294.90" x2="131" y2="294.90" stroke="#555555" stroke-width="1"/>
<line x1="231.9" y1="294.90" x2="234" y2="294.90" stroke="#555555" stroke-width="1"/>
<line x1="128.8" y1="265.80" x2="131" y2="265.80" stroke="#555555" stroke-width="1"/>
<line x1="231.9" y1="265.80" x2="234" y2="265.80" stroke="#555555" stroke-width="1"/>
<line x1="128.8" y1="236.70" x2="131" y2="236.70" stroke="#555555" stroke-width="1"/>
<line x1="231.9" y1="236.70" x2="234" y2="236.70" stroke="#555555" stroke-width="1"/>
<line x1="128.8" y1="207.60" x2="131" y2="207.60" stroke="#555555" stroke-width="1"/>
<line x1="231.9" y1="207.60" x2="234" y2="207.60" stroke="#555555" stroke-width="1"/>
<line x1="128.8" y1="178.50" x2="131" y2="178.50" stroke="#555555" stroke-width="1"/>
<line x1="231.9" y1="178.50" x2="234" y2="178.50" stroke="#555555" stroke-width="1"/>
<line x1="128.80" y1="325" x2="128.80" y2="322" stroke="#555555" stroke-width="1"/>
<line x1="143.65" y1="325" x2="143.65" y2="323" stroke="#555555" stroke-width="1"/>
<line x1="158.50" y1="325" x2="158.50" y2="322" stroke="#555555" stroke-width="1"/>
<line x1="173.35" y1="325" x2="173.35" y2="323" stroke="#555555" stroke-width="1"/>
<line x1="188.20" y1="325" x2="188.20" y2="322" stroke="#555555" stroke-width="1"/>
<line x1="203.05" y1="325" x2="203.05" y2="323" stroke="#555555" stroke-width="1"/>
<line x1="217.90" y1="325" x2="217.90" y2="322" stroke="#555555" stroke-width="1"/>
<line x1="246.80" y1="325" x2="246.80" y2="322" stroke="#555555" stroke-width="1"/>
<line x1="266.24" y1="325" x2="266.24" y2="323" stroke="#555555" stroke-width="1"/>
<line x1="285.68" y1="325" x2="285.68" y2="322" stroke="#555555" stroke-width="1"/>
<line x1="305.12" y1="325" x2="305.12" y2="323" stroke="#555555" stroke-width="1"/>
<line x1="324.56" y1="325" x2="324.56" y2="322" stroke="#555555" stroke-width="1"/>
<line x1="344.00" y1="325" x2="344.00" y2="323" stroke="#555555" stroke-width="1"/>
<line x1="363.44" y1="325" x2="363.44" y2="322" stroke="#555555" stroke-width="1"/>
<line x1="382.88" y1="325" x2="382.88" y2="323" stroke="#555555" stroke-width="1"/>
<line x1="402.32" y1="325" x2="402.32" y2="322" stroke="#555555" stroke-width="1"/>
<line x1="421.76" y1="325" x2="421.76" y2="323" stroke="#555555" stroke-width="1"/>
<line x1="441.20" y1="325" x2="441.20" y2="322" stroke="#555555" stroke-width="1"/>
<line x1="460.64" y1="325" x2="460.64" y2="323" stroke="#555555" stroke-width="1"/>
<line x1="480.08" y1="325" x2="480.08" y2="322" stroke="#555555" stroke-width="1"/>
<line x1="499.52" y1="325" x2="499.52" y2="323" stroke="#555555" stroke-width="1"/>
<text class="tk" x="125.6" y="326.0" text-anchor="end">0</text>
<text class="tk" x="125.6" y="296.8" text-anchor="end">1</text>
<text class="tk" x="125.6" y="267.6" text-anchor="end">2</text>
<text class="tk" x="125.6" y="238.3" text-anchor="end">3</text>
<text class="tk" x="125.6" y="209.0" text-anchor="end">4</text>
<text class="tk" x="125.6" y="179.9" text-anchor="end">5</text>
<text class="tk" x="128.7" y="337.6" text-anchor="middle">0</text>
<text class="tk" x="159" y="337.6" text-anchor="middle">40</text>
<text class="tk" x="188" y="337.6" text-anchor="middle">80</text>
<text class="tk" x="218.2" y="337.6" text-anchor="middle">120</text>
<text class="tk" x="246.8" y="337.6" text-anchor="middle">160</text>
<text class="tk" x="285.5" y="337.6" text-anchor="middle">240</text>
<text class="tk" x="324.5" y="337.6" text-anchor="middle">320</text>
<text class="tk" x="363.5" y="337.6" text-anchor="middle">400</text>
<text class="tk" x="402.3" y="337.6" text-anchor="middle">480</text>
<text class="tk" x="441" y="337.6" text-anchor="middle">560</text>
<text class="tk" x="480" y="337.6" text-anchor="middle">640</text>
<text class="ax" x="177" y="352" text-anchor="middle" textLength="31.5" lengthAdjust="spacingAndGlyphs">residue</text>
<text class="ax" x="371.7" y="352" text-anchor="middle" textLength="31.5" lengthAdjust="spacingAndGlyphs">residue</text>
<text class="ax" transform="translate(110.6,244.6) rotate(-90)" x="0" y="0" text-anchor="middle" textLength="68" lengthAdjust="spacingAndGlyphs">homology score</text>
<text class="pl" x="219.2" y="172.6" text-anchor="middle">A</text>
<text class="pl" x="505.2" y="173.2" text-anchor="middle">B</text>
<line x1="88.5" y1="70.5" x2="149.5" y2="174.6" stroke="#111" stroke-width="1.3"/>
<line x1="91.9" y1="141.5" x2="132.6" y2="174.5" stroke="#111" stroke-width="1.3"/>
<line x1="158.2" y1="122.6" x2="172.2" y2="175.2" stroke="#111" stroke-width="1.3"/>
<line x1="241.2" y1="75.2" x2="208.9" y2="175" stroke="#111" stroke-width="1.3"/>
<line x1="258.6" y1="157" x2="255.0" y2="175.5" stroke="#111" stroke-width="1.3"/>
<line x1="336.8" y1="155" x2="274.6" y2="175.5" stroke="#111" stroke-width="1.3"/>
<line x1="447.6" y1="80.5" x2="363.9" y2="175.3" stroke="#1a2a80" stroke-width="1.3"/>
<line x1="491" y1="146.5" x2="465.5" y2="175" stroke="#1a2a80" stroke-width="1.3"/>
<ellipse cx="135.9" cy="178.4" rx="3.7" ry="4.1" fill="none" stroke="#15207a" stroke-width="1.4"/>
<ellipse cx="150.9" cy="178.9" rx="3.7" ry="4.1" fill="none" stroke="#15207a" stroke-width="1.4"/>
<ellipse cx="175.2" cy="179.5" rx="3.7" ry="4.1" fill="none" stroke="#15207a" stroke-width="1.4"/>
<ellipse cx="208.1" cy="179.0" rx="3.7" ry="4.1" fill="none" stroke="#15207a" stroke-width="1.4"/>
<ellipse cx="253.7" cy="178.5" rx="4.2" ry="4.6" fill="none" stroke="#15207a" stroke-width="1.4"/>
<ellipse cx="272.0" cy="179.0" rx="3.7" ry="4.3" fill="none" stroke="#15207a" stroke-width="1.4"/>
<ellipse cx="361.4" cy="178.8" rx="3.8" ry="4.2" fill="none" stroke="#15207a" stroke-width="1.4"/>
<ellipse cx="462.7" cy="178.0" rx="3.8" ry="4.0" fill="none" stroke="#15207a" stroke-width="1.4"/>
<path d="M276.6,76 H281.2 V85.5 H283.3 L278.9,90.7 L274.2,85.5 H276.6 Z" fill="#111"/><path d="M291.9,90.4 H296.5 V81.8 H298.8 L294.2,76.8 L289.6,81.8 H291.9 Z" fill="#111"/>
<text class="ln" x="10.3" y="169.6" text-anchor="middle">1</text><text class="lg" x="18.2" y="167.7">Coral 8</text>
<text class="ln" x="10.3" y="182.4" text-anchor="middle">2</text><text class="lg" x="18.2" y="181.4">Human 12</text>
<text class="ln" x="10.3" y="195.6" text-anchor="middle">3</text><text class="lg" x="18.2" y="194.7">Rabbit 12/15</text>
<text class="ln" x="10.3" y="208.8" text-anchor="middle">4</text><text class="lg" x="18.2" y="208.4">Human 15</text>
<text class="ln" x="10.3" y="221.5" text-anchor="middle">5</text><text class="lg" x="18.2" y="221.1">Human 5</text>
<text class="ln" x="6" y="97.2" text-anchor="middle">1</text>
<text class="ln" x="6" y="109.1" text-anchor="middle">2</text>
<text class="ln" x="6" y="121.0" text-anchor="middle">3</text>
<text class="ln" x="6" y="133.0" text-anchor="middle">4</text>
<text class="ln" x="6" y="144.6" text-anchor="middle">5</text>
</svg>
</body></html>
